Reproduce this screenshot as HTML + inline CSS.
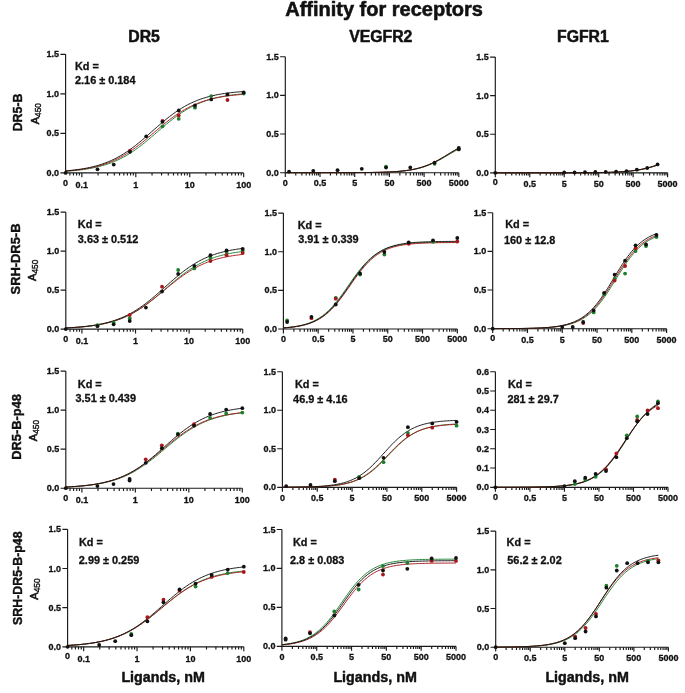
<!DOCTYPE html>
<html><head><meta charset="utf-8"><title>Affinity for receptors</title>
<style>
html,body{margin:0;padding:0;background:#fff;}
svg{display:block;filter:blur(0.3px);}
text{font-family:'Liberation Sans', Arial, sans-serif;fill:#111;stroke:#111;stroke-width:0.3px;}
.yl{stroke-width:0.55px;}.ys{stroke-width:0.4px;}
.tl{font-size:9px;font-weight:bold;}
.kd{font-size:10.9px;font-weight:bold;}
.ttl{font-size:20px;font-weight:bold;stroke-width:0.55px;}
.col{font-size:15.8px;font-weight:bold;stroke-width:0.5px;}
.row{font-size:12.4px;font-weight:bold;stroke-width:0.4px;}
.xl{font-size:14.3px;font-weight:bold;stroke-width:0.45px;}
.yl{font-size:11px;font-weight:normal;}
.ys{font-size:8.4px;font-weight:normal;}
</style></head><body>
<svg width="685" height="693" viewBox="0 0 685 693">
<rect width="685" height="693" fill="#fff"/>
<text x="285.2" y="15.8" class="ttl">Affinity for receptors</text>
<text x="128.3" y="41.8" class="col">DR5</text>
<text x="349.2" y="41.6" class="col">VEGFR2</text>
<text x="557.0" y="41.6" class="col">FGFR1</text>

<text transform="translate(22.20 112.40) rotate(-90)" x="0" y="0" class="row" style="font-size:12.4px" text-anchor="middle">DR5-B</text>
<text transform="translate(38.90 113.70) rotate(-90)" x="0" y="0" text-anchor="middle"><tspan class="yl">A</tspan><tspan class="ys" dy="2.1">450</tspan></text>
<text transform="translate(19.80 259.00) rotate(-90)" x="0" y="0" class="row" style="font-size:12.9px" text-anchor="middle">SRH-DR5-B</text>
<text transform="translate(36.20 270.30) rotate(-90)" x="0" y="0" text-anchor="middle"><tspan class="yl">A</tspan><tspan class="ys" dy="2.1">450</tspan></text>
<text transform="translate(21.20 426.90) rotate(-90)" x="0" y="0" class="row" style="font-size:12.85px" text-anchor="middle">DR5-B-p48</text>
<text transform="translate(36.80 430.50) rotate(-90)" x="0" y="0" text-anchor="middle"><tspan class="yl">A</tspan><tspan class="ys" dy="2.1">450</tspan></text>
<text transform="translate(21.70 578.20) rotate(-90)" x="0" y="0" class="row" style="font-size:12.4px" text-anchor="middle">SRH-DR5-B-p48</text>
<text transform="translate(37.90 589.00) rotate(-90)" x="0" y="0" text-anchor="middle"><tspan class="yl">A</tspan><tspan class="ys" dy="2.1">450</tspan></text>
<path d="M65.60 54.30V172.90H243.70" stroke="#1a1a1a" stroke-width="1.15" fill="none"/>
<text x="59.10" y="175.95" class="tl" text-anchor="end">0.0</text>
<text x="59.10" y="136.42" class="tl" text-anchor="end">0.5</text>
<text x="59.10" y="96.88" class="tl" text-anchor="end">1.0</text>
<text x="59.10" y="57.35" class="tl" text-anchor="end">1.5</text>
<text x="81.84" y="187.60" class="tl" text-anchor="middle">0.1</text>
<text x="135.79" y="187.60" class="tl" text-anchor="middle">1</text>
<text x="189.75" y="187.60" class="tl" text-anchor="middle">10</text>
<text x="243.70" y="187.60" class="tl" text-anchor="middle">100</text>
<text x="65.60" y="185.50" class="tl" text-anchor="middle">0</text>
<path d="M60.40 172.90H65.60M60.40 133.37H65.60M60.40 93.83H65.60M60.40 54.30H65.60M69.87 172.90V175.60M73.48 172.90V175.60M76.61 172.90V175.60M79.37 172.90V175.60M98.08 172.90V175.60M107.58 172.90V175.60M114.32 172.90V175.60M119.55 172.90V175.60M123.82 172.90V175.60M127.44 172.90V175.60M130.57 172.90V175.60M133.33 172.90V175.60M152.04 172.90V175.60M161.54 172.90V175.60M168.28 172.90V175.60M173.51 172.90V175.60M177.78 172.90V175.60M181.39 172.90V175.60M184.52 172.90V175.60M187.28 172.90V175.60M205.99 172.90V175.60M215.49 172.90V175.60M222.23 172.90V175.60M227.46 172.90V175.60M231.73 172.90V175.60M235.34 172.90V175.60M238.47 172.90V175.60M241.23 172.90V175.60M81.84 172.90V177.30M135.79 172.90V177.30M189.75 172.90V177.30M243.70 172.90V177.30" stroke="#1a1a1a" stroke-width="1.15" fill="none"/>
<polyline points="65.60,171.28 67.08,171.18 68.57,171.07 70.05,170.95 71.54,170.82 73.02,170.69 74.50,170.55 75.99,170.40 77.47,170.24 78.96,170.08 80.44,169.90 81.93,169.71 83.41,169.51 84.89,169.30 86.38,169.07 87.86,168.84 89.35,168.59 90.83,168.32 92.31,168.04 93.80,167.74 95.28,167.43 96.77,167.09 98.25,166.74 99.74,166.37 101.22,165.98 102.70,165.57 104.19,165.14 105.67,164.68 107.16,164.20 108.64,163.70 110.12,163.17 111.61,162.61 113.09,162.03 114.58,161.42 116.06,160.78 117.55,160.11 119.03,159.42 120.51,158.69 122.00,157.93 123.48,157.14 124.97,156.32 126.45,155.47 127.94,154.59 129.42,153.68 130.90,152.73 132.39,151.76 133.87,150.75 135.36,149.72 136.84,148.66 138.32,147.57 139.81,146.45 141.29,145.31 142.78,144.15 144.26,142.96 145.75,141.76 147.23,140.53 148.71,139.29 150.20,138.04 151.68,136.78 153.17,135.51 154.65,134.23 156.13,132.95 157.62,131.66 159.10,130.38 160.59,129.10 162.07,127.83 163.56,126.57 165.04,125.32 166.52,124.08 168.01,122.86 169.49,121.66 170.98,120.47 172.46,119.31 173.94,118.17 175.43,117.06 176.91,115.98 178.40,114.92 179.88,113.89 181.36,112.88 182.85,111.91 184.33,110.97 185.82,110.06 187.30,109.18 188.79,108.34 190.27,107.52 191.75,106.74 193.24,105.98 194.72,105.26 196.21,104.56 197.69,103.90 199.17,103.27 200.66,102.66 202.14,102.08 203.63,101.53 205.11,101.00 206.60,100.50 208.08,100.02 209.56,99.57 211.05,99.14 212.53,98.73 214.02,98.34 215.50,97.97 216.98,97.62 218.47,97.29 219.95,96.98 221.44,96.69 222.92,96.41 224.41,96.14 225.89,95.89 227.37,95.66 228.86,95.43 230.34,95.22 231.83,95.02 233.31,94.84 234.79,94.66 236.28,94.49 237.76,94.34 239.25,94.19 240.73,94.05 242.22,93.92 243.70,93.79" stroke="#1b7f2b" stroke-width="0.95" fill="none"/>
<polyline points="65.60,171.08 67.08,170.96 68.57,170.84 70.05,170.70 71.54,170.57 73.02,170.42 74.50,170.26 75.99,170.09 77.47,169.92 78.96,169.73 80.44,169.53 81.93,169.32 83.41,169.10 84.89,168.86 86.38,168.61 87.86,168.35 89.35,168.07 90.83,167.77 92.31,167.46 93.80,167.13 95.28,166.78 96.77,166.41 98.25,166.02 99.74,165.62 101.22,165.19 102.70,164.73 104.19,164.26 105.67,163.76 107.16,163.23 108.64,162.68 110.12,162.10 111.61,161.49 113.09,160.86 114.58,160.20 116.06,159.50 117.55,158.78 119.03,158.03 120.51,157.25 122.00,156.43 123.48,155.59 124.97,154.71 126.45,153.81 127.94,152.87 129.42,151.90 130.90,150.91 132.39,149.88 133.87,148.83 135.36,147.75 136.84,146.64 138.32,145.51 139.81,144.36 141.29,143.18 142.78,141.99 144.26,140.77 145.75,139.55 147.23,138.30 148.71,137.05 150.20,135.79 151.68,134.53 153.17,133.26 154.65,131.99 156.13,130.72 157.62,129.45 159.10,128.19 160.59,126.94 162.07,125.71 163.56,124.48 165.04,123.27 166.52,122.08 168.01,120.91 169.49,119.76 170.98,118.64 172.46,117.54 173.94,116.46 175.43,115.42 176.91,114.40 178.40,113.41 179.88,112.45 181.36,111.52 182.85,110.62 184.33,109.75 185.82,108.92 187.30,108.11 188.79,107.33 190.27,106.59 191.75,105.87 193.24,105.19 194.72,104.53 196.21,103.91 197.69,103.31 199.17,102.74 200.66,102.19 202.14,101.67 203.63,101.18 205.11,100.70 206.60,100.26 208.08,99.83 209.56,99.43 211.05,99.04 212.53,98.68 214.02,98.34 215.50,98.01 216.98,97.70 218.47,97.41 219.95,97.14 221.44,96.87 222.92,96.63 224.41,96.39 225.89,96.17 227.37,95.97 228.86,95.77 230.34,95.59 231.83,95.41 233.31,95.25 234.79,95.09 236.28,94.95 237.76,94.81 239.25,94.68 240.73,94.56 242.22,94.44 243.70,94.34" stroke="#a8161b" stroke-width="0.95" fill="none"/>
<polyline points="65.60,170.88 67.08,170.75 68.57,170.61 70.05,170.46 71.54,170.31 73.02,170.15 74.50,169.97 75.99,169.79 77.47,169.59 78.96,169.39 80.44,169.17 81.93,168.93 83.41,168.69 84.89,168.43 86.38,168.15 87.86,167.86 89.35,167.55 90.83,167.22 92.31,166.88 93.80,166.52 95.28,166.13 96.77,165.73 98.25,165.30 99.74,164.85 101.22,164.38 102.70,163.89 104.19,163.36 105.67,162.82 107.16,162.24 108.64,161.64 110.12,161.01 111.61,160.35 113.09,159.66 114.58,158.94 116.06,158.19 117.55,157.40 119.03,156.59 120.51,155.74 122.00,154.87 123.48,153.96 124.97,153.01 126.45,152.04 127.94,151.04 129.42,150.00 130.90,148.94 132.39,147.84 133.87,146.72 135.36,145.57 136.84,144.40 138.32,143.20 139.81,141.98 141.29,140.74 142.78,139.49 144.26,138.21 145.75,136.93 147.23,135.63 148.71,134.33 150.20,133.02 151.68,131.70 153.17,130.39 154.65,129.08 156.13,127.77 157.62,126.47 159.10,125.18 160.59,123.90 162.07,122.63 163.56,121.39 165.04,120.16 166.52,118.95 168.01,117.77 169.49,116.61 170.98,115.47 172.46,114.36 173.94,113.28 175.43,112.23 176.91,111.22 178.40,110.23 179.88,109.27 181.36,108.34 182.85,107.45 184.33,106.59 185.82,105.76 187.30,104.96 188.79,104.20 190.27,103.46 191.75,102.76 193.24,102.08 194.72,101.44 196.21,100.82 197.69,100.23 199.17,99.67 200.66,99.14 202.14,98.63 203.63,98.15 205.11,97.69 206.60,97.25 208.08,96.84 209.56,96.44 211.05,96.07 212.53,95.72 214.02,95.38 215.50,95.07 216.98,94.77 218.47,94.48 219.95,94.22 221.44,93.96 222.92,93.72 224.41,93.50 225.89,93.29 227.37,93.08 228.86,92.89 230.34,92.72 231.83,92.55 233.31,92.39 234.79,92.24 236.28,92.10 237.76,91.97 239.25,91.84 240.73,91.72 242.22,91.61 243.70,91.51" stroke="#111" stroke-width="0.95" fill="none"/>
<circle cx="162.49" cy="126.30" r="1.9" fill="#1b7f2b"/>
<circle cx="178.73" cy="118.80" r="1.9" fill="#1b7f2b"/>
<circle cx="194.98" cy="107.70" r="1.9" fill="#1b7f2b"/>
<circle cx="211.22" cy="96.10" r="1.9" fill="#1b7f2b"/>
<circle cx="243.70" cy="93.50" r="1.9" fill="#1b7f2b"/>
<circle cx="129.97" cy="150.60" r="1.9" fill="#a8161b"/>
<circle cx="162.49" cy="121.00" r="1.9" fill="#a8161b"/>
<circle cx="178.73" cy="115.50" r="1.9" fill="#a8161b"/>
<circle cx="227.46" cy="100.00" r="1.9" fill="#a8161b"/>
<circle cx="97.49" cy="169.30" r="1.9" fill="#111"/>
<circle cx="113.73" cy="164.60" r="1.9" fill="#111"/>
<circle cx="129.97" cy="151.80" r="1.9" fill="#111"/>
<circle cx="146.25" cy="136.30" r="1.9" fill="#111"/>
<circle cx="162.49" cy="121.80" r="1.9" fill="#111"/>
<circle cx="178.73" cy="110.50" r="1.9" fill="#111"/>
<circle cx="194.98" cy="105.50" r="1.9" fill="#111"/>
<circle cx="211.22" cy="99.40" r="1.9" fill="#111"/>
<circle cx="227.46" cy="94.40" r="1.9" fill="#111"/>
<circle cx="243.70" cy="92.50" r="1.9" fill="#111"/>
<circle cx="65.60" cy="172.90" r="1.9" fill="#111"/>
<text x="75.00" y="69.70" class="kd">Kd =</text>
<text x="75.00" y="83.90" class="kd">2.16 ± 0.184</text>
<path d="M285.30 56.70V172.70H458.80" stroke="#1a1a1a" stroke-width="1.15" fill="none"/>
<text x="278.80" y="175.75" class="tl" text-anchor="end">0.0</text>
<text x="278.80" y="137.08" class="tl" text-anchor="end">0.5</text>
<text x="278.80" y="98.42" class="tl" text-anchor="end">1.0</text>
<text x="278.80" y="59.75" class="tl" text-anchor="end">1.5</text>
<text x="320.00" y="185.90" class="tl" text-anchor="middle">0.5</text>
<text x="354.70" y="185.90" class="tl" text-anchor="middle">5</text>
<text x="389.40" y="185.90" class="tl" text-anchor="middle">50</text>
<text x="424.10" y="185.90" class="tl" text-anchor="middle">500</text>
<text x="458.80" y="185.90" class="tl" text-anchor="middle">5000</text>
<text x="285.30" y="185.90" class="tl" text-anchor="middle">0</text>
<path d="M280.10 172.70H285.30M280.10 134.03H285.30M280.10 95.37H285.30M280.10 56.70H285.30M295.75 172.70V175.40M301.86 172.70V175.40M306.19 172.70V175.40M309.55 172.70V175.40M312.30 172.70V175.40M314.62 172.70V175.40M316.64 172.70V175.40M318.41 172.70V175.40M330.45 172.70V175.40M336.56 172.70V175.40M340.89 172.70V175.40M344.25 172.70V175.40M347.00 172.70V175.40M349.32 172.70V175.40M351.34 172.70V175.40M353.11 172.70V175.40M365.15 172.70V175.40M371.26 172.70V175.40M375.59 172.70V175.40M378.95 172.70V175.40M381.70 172.70V175.40M384.02 172.70V175.40M386.04 172.70V175.40M387.81 172.70V175.40M399.85 172.70V175.40M405.96 172.70V175.40M410.29 172.70V175.40M413.65 172.70V175.40M416.40 172.70V175.40M418.72 172.70V175.40M420.74 172.70V175.40M422.51 172.70V175.40M434.55 172.70V175.40M440.66 172.70V175.40M444.99 172.70V175.40M448.35 172.70V175.40M451.10 172.70V175.40M453.42 172.70V175.40M455.44 172.70V175.40M457.21 172.70V175.40M320.00 172.70V177.10M354.70 172.70V177.10M389.40 172.70V177.10M424.10 172.70V177.10M458.80 172.70V177.10M285.30 172.70V177.10" stroke="#1a1a1a" stroke-width="1.15" fill="none"/>
<polyline points="285.30,172.70 286.75,172.70 288.19,172.70 289.64,172.70 291.08,172.70 292.53,172.70 293.98,172.70 295.42,172.70 296.87,172.70 298.31,172.70 299.76,172.70 301.20,172.70 302.65,172.70 304.10,172.70 305.54,172.70 306.99,172.70 308.43,172.70 309.88,172.70 311.32,172.70 312.77,172.70 314.22,172.70 315.66,172.69 317.11,172.69 318.55,172.69 320.00,172.69 321.45,172.69 322.89,172.69 324.34,172.69 325.78,172.69 327.23,172.69 328.68,172.69 330.12,172.69 331.57,172.68 333.01,172.68 334.46,172.68 335.90,172.68 337.35,172.68 338.80,172.68 340.24,172.67 341.69,172.67 343.13,172.67 344.58,172.66 346.03,172.66 347.47,172.66 348.92,172.65 350.36,172.65 351.81,172.64 353.25,172.64 354.70,172.63 356.15,172.62 357.59,172.61 359.04,172.61 360.48,172.60 361.93,172.59 363.38,172.57 364.82,172.56 366.27,172.55 367.71,172.53 369.16,172.52 370.60,172.50 372.05,172.48 373.50,172.45 374.94,172.43 376.39,172.40 377.83,172.37 379.28,172.34 380.73,172.30 382.17,172.27 383.62,172.22 385.06,172.17 386.51,172.12 387.95,172.07 389.40,172.00 390.85,171.93 392.29,171.86 393.74,171.78 395.18,171.69 396.63,171.59 398.08,171.48 399.52,171.36 400.97,171.23 402.41,171.09 403.86,170.94 405.30,170.77 406.75,170.58 408.20,170.38 409.64,170.17 411.09,169.93 412.53,169.68 413.98,169.40 415.43,169.10 416.87,168.78 418.32,168.43 419.76,168.06 421.21,167.66 422.65,167.23 424.10,166.77 425.55,166.28 426.99,165.76 428.44,165.21 429.88,164.63 431.33,164.01 432.78,163.37 434.22,162.69 435.67,161.99 437.11,161.26 438.56,160.50 440.00,159.72 441.45,158.92 442.90,158.10 444.34,157.27 445.79,156.42 447.23,155.57 448.68,154.72 450.12,153.87 451.57,153.02 453.02,152.18 454.46,151.36 455.91,150.55 457.35,149.75 458.80,148.98" stroke="#1b7f2b" stroke-width="0.95" fill="none"/>
<polyline points="285.30,172.70 286.75,172.70 288.19,172.70 289.64,172.70 291.08,172.70 292.53,172.70 293.98,172.70 295.42,172.70 296.87,172.70 298.31,172.70 299.76,172.70 301.20,172.70 302.65,172.70 304.10,172.70 305.54,172.70 306.99,172.70 308.43,172.70 309.88,172.70 311.32,172.70 312.77,172.70 314.22,172.69 315.66,172.69 317.11,172.69 318.55,172.69 320.00,172.69 321.45,172.69 322.89,172.69 324.34,172.69 325.78,172.69 327.23,172.69 328.68,172.69 330.12,172.69 331.57,172.68 333.01,172.68 334.46,172.68 335.90,172.68 337.35,172.68 338.80,172.67 340.24,172.67 341.69,172.67 343.13,172.66 344.58,172.66 346.03,172.66 347.47,172.65 348.92,172.65 350.36,172.64 351.81,172.64 353.25,172.63 354.70,172.62 356.15,172.62 357.59,172.61 359.04,172.60 360.48,172.59 361.93,172.58 363.38,172.57 364.82,172.55 366.27,172.54 367.71,172.52 369.16,172.50 370.60,172.48 372.05,172.46 373.50,172.44 374.94,172.41 376.39,172.38 377.83,172.35 379.28,172.32 380.73,172.28 382.17,172.24 383.62,172.19 385.06,172.14 386.51,172.09 387.95,172.02 389.40,171.96 390.85,171.89 392.29,171.81 393.74,171.72 395.18,171.62 396.63,171.52 398.08,171.40 399.52,171.28 400.97,171.14 402.41,170.99 403.86,170.83 405.30,170.65 406.75,170.45 408.20,170.24 409.64,170.01 411.09,169.76 412.53,169.50 413.98,169.20 415.43,168.89 416.87,168.55 418.32,168.18 419.76,167.79 421.21,167.37 422.65,166.92 424.10,166.43 425.55,165.92 426.99,165.37 428.44,164.80 429.88,164.19 431.33,163.55 432.78,162.87 434.22,162.17 435.67,161.44 437.11,160.68 438.56,159.90 440.00,159.09 441.45,158.26 442.90,157.42 444.34,156.57 445.79,155.70 447.23,154.83 448.68,153.96 450.12,153.09 451.57,152.23 453.02,151.38 454.46,150.54 455.91,149.72 457.35,148.92 458.80,148.14" stroke="#a8161b" stroke-width="0.95" fill="none"/>
<polyline points="285.30,172.70 286.75,172.70 288.19,172.70 289.64,172.70 291.08,172.70 292.53,172.70 293.98,172.70 295.42,172.70 296.87,172.70 298.31,172.70 299.76,172.70 301.20,172.70 302.65,172.70 304.10,172.70 305.54,172.70 306.99,172.70 308.43,172.70 309.88,172.70 311.32,172.70 312.77,172.70 314.22,172.69 315.66,172.69 317.11,172.69 318.55,172.69 320.00,172.69 321.45,172.69 322.89,172.69 324.34,172.69 325.78,172.69 327.23,172.69 328.68,172.69 330.12,172.69 331.57,172.68 333.01,172.68 334.46,172.68 335.90,172.68 337.35,172.68 338.80,172.67 340.24,172.67 341.69,172.67 343.13,172.67 344.58,172.66 346.03,172.66 347.47,172.65 348.92,172.65 350.36,172.64 351.81,172.64 353.25,172.63 354.70,172.63 356.15,172.62 357.59,172.61 359.04,172.60 360.48,172.59 361.93,172.58 363.38,172.57 364.82,172.56 366.27,172.54 367.71,172.52 369.16,172.51 370.60,172.49 372.05,172.47 373.50,172.44 374.94,172.42 376.39,172.39 377.83,172.36 379.28,172.32 380.73,172.29 382.17,172.25 383.62,172.20 385.06,172.15 386.51,172.10 387.95,172.04 389.40,171.97 390.85,171.90 392.29,171.82 393.74,171.74 395.18,171.64 396.63,171.54 398.08,171.43 399.52,171.30 400.97,171.17 402.41,171.02 403.86,170.86 405.30,170.68 406.75,170.49 408.20,170.28 409.64,170.06 411.09,169.81 412.53,169.55 413.98,169.26 415.43,168.95 416.87,168.61 418.32,168.25 419.76,167.86 421.21,167.44 422.65,166.99 424.10,166.51 425.55,166.00 426.99,165.46 428.44,164.88 429.88,164.28 431.33,163.63 432.78,162.96 434.22,162.26 435.67,161.52 437.11,160.76 438.56,159.97 440.00,159.15 441.45,158.32 442.90,157.46 444.34,156.60 445.79,155.72 447.23,154.83 448.68,153.94 450.12,153.05 451.57,152.17 453.02,151.29 454.46,150.43 455.91,149.58 457.35,148.76 458.80,147.95" stroke="#111" stroke-width="0.95" fill="none"/>
<circle cx="386.04" cy="166.60" r="1.9" fill="#1b7f2b"/>
<circle cx="434.55" cy="163.80" r="1.9" fill="#1b7f2b"/>
<circle cx="289.02" cy="171.60" r="1.9" fill="#111"/>
<circle cx="313.27" cy="170.80" r="1.9" fill="#111"/>
<circle cx="337.53" cy="170.20" r="1.9" fill="#111"/>
<circle cx="361.78" cy="168.80" r="1.9" fill="#111"/>
<circle cx="386.04" cy="167.60" r="1.9" fill="#111"/>
<circle cx="410.29" cy="167.40" r="1.9" fill="#111"/>
<circle cx="434.55" cy="162.70" r="1.9" fill="#111"/>
<circle cx="458.80" cy="148.00" r="1.9" fill="#111"/>
<circle cx="458.80" cy="149.40" r="1.9" fill="#111"/>
<path d="M495.30 57.10V172.80H667.60" stroke="#1a1a1a" stroke-width="1.15" fill="none"/>
<text x="488.80" y="175.85" class="tl" text-anchor="end">0.0</text>
<text x="488.80" y="137.28" class="tl" text-anchor="end">0.5</text>
<text x="488.80" y="98.72" class="tl" text-anchor="end">1.0</text>
<text x="488.80" y="60.15" class="tl" text-anchor="end">1.5</text>
<text x="529.76" y="186.70" class="tl" text-anchor="middle">0.5</text>
<text x="564.22" y="186.70" class="tl" text-anchor="middle">5</text>
<text x="598.68" y="186.70" class="tl" text-anchor="middle">50</text>
<text x="633.14" y="186.70" class="tl" text-anchor="middle">500</text>
<text x="667.60" y="186.70" class="tl" text-anchor="middle">5000</text>
<text x="495.30" y="185.30" class="tl" text-anchor="middle">0</text>
<path d="M490.10 172.80H495.30M490.10 134.23H495.30M490.10 95.67H495.30M490.10 57.10H495.30M505.67 172.80V175.50M511.74 172.80V175.50M516.05 172.80V175.50M519.39 172.80V175.50M522.12 172.80V175.50M524.42 172.80V175.50M526.42 172.80V175.50M528.18 172.80V175.50M540.13 172.80V175.50M546.20 172.80V175.50M550.51 172.80V175.50M553.85 172.80V175.50M556.58 172.80V175.50M558.88 172.80V175.50M560.88 172.80V175.50M562.64 172.80V175.50M574.59 172.80V175.50M580.66 172.80V175.50M584.97 172.80V175.50M588.31 172.80V175.50M591.04 172.80V175.50M593.34 172.80V175.50M595.34 172.80V175.50M597.10 172.80V175.50M609.05 172.80V175.50M615.12 172.80V175.50M619.43 172.80V175.50M622.77 172.80V175.50M625.50 172.80V175.50M627.80 172.80V175.50M629.80 172.80V175.50M631.56 172.80V175.50M643.51 172.80V175.50M649.58 172.80V175.50M653.89 172.80V175.50M657.23 172.80V175.50M659.96 172.80V175.50M662.26 172.80V175.50M664.26 172.80V175.50M666.02 172.80V175.50M529.76 172.80V177.20M564.22 172.80V177.20M598.68 172.80V177.20M633.14 172.80V177.20M667.60 172.80V177.20M495.30 172.80V177.20" stroke="#1a1a1a" stroke-width="1.15" fill="none"/>
<polyline points="495.30,172.80 496.65,172.80 498.00,172.80 499.36,172.80 500.71,172.80 502.06,172.80 503.41,172.80 504.77,172.80 506.12,172.80 507.47,172.80 508.82,172.80 510.18,172.80 511.53,172.80 512.88,172.80 514.23,172.80 515.59,172.80 516.94,172.80 518.29,172.80 519.64,172.80 520.99,172.80 522.35,172.80 523.70,172.80 525.05,172.80 526.40,172.80 527.76,172.80 529.11,172.80 530.46,172.80 531.81,172.80 533.17,172.80 534.52,172.80 535.87,172.80 537.22,172.80 538.58,172.80 539.93,172.80 541.28,172.80 542.63,172.79 543.98,172.79 545.34,172.79 546.69,172.79 548.04,172.79 549.39,172.79 550.75,172.79 552.10,172.79 553.45,172.79 554.80,172.79 556.16,172.79 557.51,172.79 558.86,172.78 560.21,172.78 561.56,172.78 562.92,172.78 564.27,172.78 565.62,172.78 566.97,172.77 568.33,172.77 569.68,172.77 571.03,172.76 572.38,172.76 573.74,172.76 575.09,172.75 576.44,172.75 577.79,172.75 579.15,172.74 580.50,172.73 581.85,172.73 583.20,172.72 584.55,172.71 585.91,172.71 587.26,172.70 588.61,172.69 589.96,172.68 591.32,172.66 592.67,172.65 594.02,172.64 595.37,172.62 596.73,172.61 598.08,172.59 599.43,172.57 600.78,172.55 602.14,172.52 603.49,172.50 604.84,172.47 606.19,172.44 607.54,172.40 608.90,172.37 610.25,172.33 611.60,172.28 612.95,172.24 614.31,172.18 615.66,172.13 617.01,172.07 618.36,172.00 619.72,171.93 621.07,171.85 622.42,171.76 623.77,171.67 625.13,171.57 626.48,171.46 627.83,171.34 629.18,171.21 630.53,171.07 631.89,170.92 633.24,170.76 634.59,170.58 635.94,170.40 637.30,170.19 638.65,169.98 640.00,169.75 641.35,169.50 642.71,169.23 644.06,168.95 645.41,168.65 646.76,168.34 648.12,168.00 649.47,167.65 650.82,167.28 652.17,166.89 653.52,166.48 654.88,166.06 656.23,165.62 657.58,165.17" stroke="#1b7f2b" stroke-width="0.95" fill="none"/>
<polyline points="495.30,172.80 496.65,172.80 498.00,172.80 499.36,172.80 500.71,172.80 502.06,172.80 503.41,172.80 504.77,172.80 506.12,172.80 507.47,172.80 508.82,172.80 510.18,172.80 511.53,172.80 512.88,172.80 514.23,172.80 515.59,172.80 516.94,172.80 518.29,172.80 519.64,172.80 520.99,172.80 522.35,172.80 523.70,172.80 525.05,172.80 526.40,172.80 527.76,172.80 529.11,172.80 530.46,172.80 531.81,172.80 533.17,172.80 534.52,172.80 535.87,172.80 537.22,172.80 538.58,172.80 539.93,172.80 541.28,172.79 542.63,172.79 543.98,172.79 545.34,172.79 546.69,172.79 548.04,172.79 549.39,172.79 550.75,172.79 552.10,172.79 553.45,172.79 554.80,172.79 556.16,172.79 557.51,172.78 558.86,172.78 560.21,172.78 561.56,172.78 562.92,172.78 564.27,172.78 565.62,172.77 566.97,172.77 568.33,172.77 569.68,172.77 571.03,172.76 572.38,172.76 573.74,172.76 575.09,172.75 576.44,172.75 577.79,172.74 579.15,172.74 580.50,172.73 581.85,172.72 583.20,172.72 584.55,172.71 585.91,172.70 587.26,172.69 588.61,172.68 589.96,172.67 591.32,172.66 592.67,172.64 594.02,172.63 595.37,172.61 596.73,172.59 598.08,172.57 599.43,172.55 600.78,172.53 602.14,172.50 603.49,172.48 604.84,172.45 606.19,172.41 607.54,172.38 608.90,172.34 610.25,172.30 611.60,172.25 612.95,172.20 614.31,172.14 615.66,172.08 617.01,172.02 618.36,171.95 619.72,171.87 621.07,171.78 622.42,171.69 623.77,171.59 625.13,171.48 626.48,171.37 627.83,171.24 629.18,171.10 630.53,170.95 631.89,170.79 633.24,170.62 634.59,170.44 635.94,170.24 637.30,170.02 638.65,169.79 640.00,169.54 641.35,169.28 642.71,169.00 644.06,168.70 645.41,168.38 646.76,168.04 648.12,167.68 649.47,167.31 650.82,166.91 652.17,166.50 653.52,166.06 654.88,165.61 656.23,165.14 657.58,164.66" stroke="#a8161b" stroke-width="0.95" fill="none"/>
<polyline points="495.30,172.80 496.65,172.80 498.00,172.80 499.36,172.80 500.71,172.80 502.06,172.80 503.41,172.80 504.77,172.80 506.12,172.80 507.47,172.80 508.82,172.80 510.18,172.80 511.53,172.80 512.88,172.80 514.23,172.80 515.59,172.80 516.94,172.80 518.29,172.80 519.64,172.80 520.99,172.80 522.35,172.80 523.70,172.80 525.05,172.80 526.40,172.80 527.76,172.80 529.11,172.80 530.46,172.80 531.81,172.80 533.17,172.80 534.52,172.80 535.87,172.80 537.22,172.80 538.58,172.80 539.93,172.80 541.28,172.80 542.63,172.79 543.98,172.79 545.34,172.79 546.69,172.79 548.04,172.79 549.39,172.79 550.75,172.79 552.10,172.79 553.45,172.79 554.80,172.79 556.16,172.79 557.51,172.79 558.86,172.78 560.21,172.78 561.56,172.78 562.92,172.78 564.27,172.78 565.62,172.77 566.97,172.77 568.33,172.77 569.68,172.77 571.03,172.76 572.38,172.76 573.74,172.76 575.09,172.75 576.44,172.75 577.79,172.74 579.15,172.74 580.50,172.73 581.85,172.73 583.20,172.72 584.55,172.71 585.91,172.70 587.26,172.69 588.61,172.68 589.96,172.67 591.32,172.66 592.67,172.65 594.02,172.63 595.37,172.62 596.73,172.60 598.08,172.58 599.43,172.56 600.78,172.54 602.14,172.51 603.49,172.49 604.84,172.46 606.19,172.42 607.54,172.39 608.90,172.35 610.25,172.31 611.60,172.26 612.95,172.21 614.31,172.16 615.66,172.10 617.01,172.04 618.36,171.97 619.72,171.89 621.07,171.81 622.42,171.72 623.77,171.63 625.13,171.52 626.48,171.41 627.83,171.28 629.18,171.15 630.53,171.01 631.89,170.85 633.24,170.68 634.59,170.50 635.94,170.31 637.30,170.10 638.65,169.88 640.00,169.64 641.35,169.39 642.71,169.11 644.06,168.82 645.41,168.52 646.76,168.19 648.12,167.85 649.47,167.49 650.82,167.11 652.17,166.72 653.52,166.30 654.88,165.87 656.23,165.43 657.58,164.96" stroke="#111" stroke-width="0.95" fill="none"/>
<circle cx="564.22" cy="172.50" r="1.9" fill="#111"/>
<circle cx="574.59" cy="172.40" r="1.9" fill="#111"/>
<circle cx="584.97" cy="172.20" r="1.9" fill="#111"/>
<circle cx="595.34" cy="172.00" r="1.9" fill="#111"/>
<circle cx="605.71" cy="171.90" r="1.9" fill="#111"/>
<circle cx="616.09" cy="171.60" r="1.9" fill="#111"/>
<circle cx="626.46" cy="171.10" r="1.9" fill="#111"/>
<circle cx="636.83" cy="169.70" r="1.9" fill="#111"/>
<circle cx="647.21" cy="168.00" r="1.9" fill="#111"/>
<circle cx="657.58" cy="164.40" r="1.9" fill="#111"/>
<circle cx="495.30" cy="172.80" r="1.9" fill="#111"/>
<path d="M65.80 212.10V329.10H242.70" stroke="#1a1a1a" stroke-width="1.15" fill="none"/>
<text x="59.30" y="332.15" class="tl" text-anchor="end">0.0</text>
<text x="59.30" y="293.15" class="tl" text-anchor="end">0.5</text>
<text x="59.30" y="254.15" class="tl" text-anchor="end">1.0</text>
<text x="59.30" y="215.15" class="tl" text-anchor="end">1.5</text>
<text x="81.93" y="343.80" class="tl" text-anchor="middle">0.1</text>
<text x="135.52" y="343.80" class="tl" text-anchor="middle">1</text>
<text x="189.11" y="343.80" class="tl" text-anchor="middle">10</text>
<text x="242.70" y="343.80" class="tl" text-anchor="middle">100</text>
<text x="65.80" y="341.70" class="tl" text-anchor="middle">0</text>
<path d="M60.60 329.10H65.80M60.60 290.10H65.80M60.60 251.10H65.80M60.60 212.10H65.80M70.04 329.10V331.80M73.63 329.10V331.80M76.74 329.10V331.80M79.48 329.10V331.80M98.06 329.10V331.80M107.50 329.10V331.80M114.20 329.10V331.80M119.39 329.10V331.80M123.63 329.10V331.80M127.22 329.10V331.80M130.33 329.10V331.80M133.07 329.10V331.80M151.65 329.10V331.80M161.09 329.10V331.80M167.79 329.10V331.80M172.98 329.10V331.80M177.22 329.10V331.80M180.81 329.10V331.80M183.92 329.10V331.80M186.66 329.10V331.80M205.24 329.10V331.80M214.68 329.10V331.80M221.37 329.10V331.80M226.57 329.10V331.80M230.81 329.10V331.80M234.40 329.10V331.80M237.51 329.10V331.80M240.25 329.10V331.80M81.93 329.10V333.50M135.52 329.10V333.50M189.11 329.10V333.50M242.70 329.10V333.50" stroke="#1a1a1a" stroke-width="1.15" fill="none"/>
<polyline points="65.80,328.00 67.27,327.93 68.75,327.85 70.22,327.77 71.70,327.69 73.17,327.60 74.64,327.50 76.12,327.40 77.59,327.29 79.07,327.17 80.54,327.05 82.02,326.92 83.49,326.78 84.96,326.64 86.44,326.48 87.91,326.31 89.39,326.14 90.86,325.95 92.33,325.76 93.81,325.55 95.28,325.33 96.76,325.09 98.23,324.84 99.71,324.58 101.18,324.30 102.65,324.01 104.13,323.70 105.60,323.37 107.08,323.02 108.55,322.66 110.02,322.27 111.50,321.87 112.97,321.44 114.45,320.99 115.92,320.51 117.40,320.02 118.87,319.49 120.34,318.94 121.82,318.37 123.29,317.77 124.77,317.14 126.24,316.48 127.72,315.79 129.19,315.07 130.66,314.32 132.14,313.54 133.61,312.73 135.09,311.89 136.56,311.02 138.03,310.11 139.51,309.18 140.98,308.22 142.46,307.22 143.93,306.20 145.40,305.15 146.88,304.07 148.35,302.97 149.83,301.84 151.30,300.69 152.78,299.51 154.25,298.32 155.72,297.11 157.20,295.88 158.67,294.64 160.15,293.39 161.62,292.13 163.09,290.86 164.57,289.59 166.04,288.32 167.52,287.05 168.99,285.78 170.47,284.52 171.94,283.27 173.41,282.03 174.89,280.80 176.36,279.59 177.84,278.39 179.31,277.22 180.78,276.06 182.26,274.93 183.73,273.83 185.21,272.75 186.68,271.70 188.16,270.67 189.63,269.68 191.10,268.71 192.58,267.78 194.05,266.88 195.53,266.00 197.00,265.16 198.47,264.35 199.95,263.57 201.42,262.82 202.90,262.10 204.37,261.41 205.85,260.75 207.32,260.12 208.79,259.51 210.27,258.94 211.74,258.39 213.22,257.86 214.69,257.36 216.16,256.89 217.64,256.44 219.11,256.01 220.59,255.60 222.06,255.22 223.54,254.85 225.01,254.50 226.48,254.17 227.96,253.86 229.43,253.57 230.91,253.29 232.38,253.03 233.86,252.78 235.33,252.54 236.80,252.32 238.28,252.11 239.75,251.91 241.23,251.73 242.70,251.55" stroke="#1b7f2b" stroke-width="0.95" fill="none"/>
<polyline points="65.80,327.98 67.27,327.91 68.75,327.83 70.22,327.75 71.70,327.66 73.17,327.57 74.64,327.47 76.12,327.37 77.59,327.26 79.07,327.14 80.54,327.02 82.02,326.89 83.49,326.75 84.96,326.60 86.44,326.44 87.91,326.27 89.39,326.09 90.86,325.90 92.33,325.70 93.81,325.49 95.28,325.27 96.76,325.03 98.23,324.78 99.71,324.52 101.18,324.23 102.65,323.94 104.13,323.62 105.60,323.29 107.08,322.94 108.55,322.57 110.02,322.19 111.50,321.78 112.97,321.35 114.45,320.89 115.92,320.42 117.40,319.92 118.87,319.39 120.34,318.84 121.82,318.26 123.29,317.66 124.77,317.03 126.24,316.37 127.72,315.68 129.19,314.97 130.66,314.22 132.14,313.44 133.61,312.64 135.09,311.80 136.56,310.94 138.03,310.04 139.51,309.12 140.98,308.17 142.46,307.19 143.93,306.18 145.40,305.14 146.88,304.09 148.35,303.00 149.83,301.90 151.30,300.77 152.78,299.63 154.25,298.46 155.72,297.29 157.20,296.09 158.67,294.89 160.15,293.68 161.62,292.46 163.09,291.24 164.57,290.02 166.04,288.80 167.52,287.58 168.99,286.37 170.47,285.16 171.94,283.97 173.41,282.79 174.89,281.62 176.36,280.47 177.84,279.34 179.31,278.23 180.78,277.14 182.26,276.08 183.73,275.04 185.21,274.02 186.68,273.04 188.16,272.08 189.63,271.15 191.10,270.25 192.58,269.38 194.05,268.53 195.53,267.72 197.00,266.94 198.47,266.19 199.95,265.46 201.42,264.77 202.90,264.10 204.37,263.46 205.85,262.85 207.32,262.27 208.79,261.71 210.27,261.18 211.74,260.68 213.22,260.20 214.69,259.74 216.16,259.30 217.64,258.89 219.11,258.49 220.59,258.12 222.06,257.77 223.54,257.43 225.01,257.11 226.48,256.81 227.96,256.53 229.43,256.26 230.91,256.01 232.38,255.76 233.86,255.54 235.33,255.32 236.80,255.12 238.28,254.93 239.75,254.75 241.23,254.58 242.70,254.42" stroke="#a8161b" stroke-width="0.95" fill="none"/>
<polyline points="65.80,327.92 67.27,327.85 68.75,327.77 70.22,327.68 71.70,327.59 73.17,327.49 74.64,327.39 76.12,327.28 77.59,327.17 79.07,327.04 80.54,326.91 82.02,326.77 83.49,326.63 84.96,326.47 86.44,326.30 87.91,326.13 89.39,325.94 90.86,325.74 92.33,325.53 93.81,325.31 95.28,325.07 96.76,324.82 98.23,324.56 99.71,324.28 101.18,323.98 102.65,323.67 104.13,323.34 105.60,322.99 107.08,322.62 108.55,322.23 110.02,321.82 111.50,321.39 112.97,320.94 114.45,320.46 115.92,319.95 117.40,319.42 118.87,318.87 120.34,318.29 121.82,317.68 123.29,317.04 124.77,316.37 126.24,315.67 127.72,314.94 129.19,314.18 130.66,313.39 132.14,312.57 133.61,311.71 135.09,310.82 136.56,309.90 138.03,308.95 139.51,307.97 140.98,306.95 142.46,305.90 143.93,304.83 145.40,303.72 146.88,302.59 148.35,301.43 149.83,300.25 151.30,299.04 152.78,297.81 154.25,296.57 155.72,295.30 157.20,294.02 158.67,292.72 160.15,291.42 161.62,290.11 163.09,288.79 164.57,287.47 166.04,286.15 167.52,284.83 168.99,283.51 170.47,282.21 171.94,280.91 173.41,279.63 174.89,278.36 176.36,277.11 177.84,275.88 179.31,274.67 180.78,273.48 182.26,272.32 183.73,271.18 185.21,270.07 186.68,268.99 188.16,267.94 189.63,266.92 191.10,265.93 192.58,264.98 194.05,264.05 195.53,263.16 197.00,262.30 198.47,261.47 199.95,260.67 201.42,259.91 202.90,259.17 204.37,258.47 205.85,257.80 207.32,257.16 208.79,256.54 210.27,255.95 211.74,255.40 213.22,254.86 214.69,254.36 216.16,253.87 217.64,253.42 219.11,252.98 220.59,252.57 222.06,252.18 223.54,251.80 225.01,251.45 226.48,251.12 227.96,250.80 229.43,250.50 230.91,250.22 232.38,249.96 233.86,249.70 235.33,249.47 236.80,249.24 238.28,249.03 239.75,248.83 241.23,248.64 242.70,248.46" stroke="#111" stroke-width="0.95" fill="none"/>
<circle cx="97.47" cy="325.20" r="1.9" fill="#1b7f2b"/>
<circle cx="113.61" cy="322.70" r="1.9" fill="#1b7f2b"/>
<circle cx="129.74" cy="318.20" r="1.9" fill="#1b7f2b"/>
<circle cx="178.17" cy="270.00" r="1.9" fill="#1b7f2b"/>
<circle cx="194.30" cy="268.40" r="1.9" fill="#1b7f2b"/>
<circle cx="210.44" cy="257.80" r="1.9" fill="#1b7f2b"/>
<circle cx="226.57" cy="252.00" r="1.9" fill="#1b7f2b"/>
<circle cx="242.70" cy="250.70" r="1.9" fill="#1b7f2b"/>
<circle cx="129.74" cy="315.00" r="1.9" fill="#a8161b"/>
<circle cx="162.04" cy="286.70" r="1.9" fill="#a8161b"/>
<circle cx="210.44" cy="261.00" r="1.9" fill="#a8161b"/>
<circle cx="226.57" cy="255.20" r="1.9" fill="#a8161b"/>
<circle cx="242.70" cy="253.00" r="1.9" fill="#a8161b"/>
<circle cx="97.47" cy="326.20" r="1.9" fill="#111"/>
<circle cx="113.61" cy="324.30" r="1.9" fill="#111"/>
<circle cx="129.74" cy="321.00" r="1.9" fill="#111"/>
<circle cx="145.91" cy="307.60" r="1.9" fill="#111"/>
<circle cx="162.04" cy="291.50" r="1.9" fill="#111"/>
<circle cx="178.17" cy="273.90" r="1.9" fill="#111"/>
<circle cx="194.30" cy="265.80" r="1.9" fill="#111"/>
<circle cx="210.44" cy="255.20" r="1.9" fill="#111"/>
<circle cx="226.57" cy="250.40" r="1.9" fill="#111"/>
<circle cx="242.70" cy="248.80" r="1.9" fill="#111"/>
<circle cx="65.80" cy="329.10" r="1.9" fill="#111"/>
<text x="77.80" y="228.10" class="kd">Kd =</text>
<text x="77.80" y="243.20" class="kd">3.63 ± 0.512</text>
<path d="M283.40 213.10V329.00H457.30" stroke="#1a1a1a" stroke-width="1.15" fill="none"/>
<text x="276.90" y="332.05" class="tl" text-anchor="end">0.0</text>
<text x="276.90" y="293.42" class="tl" text-anchor="end">0.5</text>
<text x="276.90" y="254.78" class="tl" text-anchor="end">1.0</text>
<text x="276.90" y="216.15" class="tl" text-anchor="end">1.5</text>
<text x="318.18" y="342.20" class="tl" text-anchor="middle">0.5</text>
<text x="352.96" y="342.20" class="tl" text-anchor="middle">5</text>
<text x="387.74" y="342.20" class="tl" text-anchor="middle">50</text>
<text x="422.52" y="342.20" class="tl" text-anchor="middle">500</text>
<text x="457.30" y="342.20" class="tl" text-anchor="middle">5000</text>
<text x="283.40" y="342.20" class="tl" text-anchor="middle">0</text>
<path d="M278.20 329.00H283.40M278.20 290.37H283.40M278.20 251.73H283.40M278.20 213.10H283.40M293.87 329.00V331.70M299.99 329.00V331.70M304.34 329.00V331.70M307.71 329.00V331.70M310.46 329.00V331.70M312.79 329.00V331.70M314.81 329.00V331.70M316.59 329.00V331.70M328.65 329.00V331.70M334.77 329.00V331.70M339.12 329.00V331.70M342.49 329.00V331.70M345.24 329.00V331.70M347.57 329.00V331.70M349.59 329.00V331.70M351.37 329.00V331.70M363.43 329.00V331.70M369.55 329.00V331.70M373.90 329.00V331.70M377.27 329.00V331.70M380.02 329.00V331.70M382.35 329.00V331.70M384.37 329.00V331.70M386.15 329.00V331.70M398.21 329.00V331.70M404.33 329.00V331.70M408.68 329.00V331.70M412.05 329.00V331.70M414.80 329.00V331.70M417.13 329.00V331.70M419.15 329.00V331.70M420.93 329.00V331.70M432.99 329.00V331.70M439.11 329.00V331.70M443.46 329.00V331.70M446.83 329.00V331.70M449.58 329.00V331.70M451.91 329.00V331.70M453.93 329.00V331.70M455.71 329.00V331.70M318.18 329.00V333.40M352.96 329.00V333.40M387.74 329.00V333.40M422.52 329.00V333.40M457.30 329.00V333.40M283.40 329.00V333.40" stroke="#1a1a1a" stroke-width="1.15" fill="none"/>
<polyline points="283.40,327.84 284.85,327.73 286.30,327.60 287.75,327.46 289.20,327.31 290.65,327.14 292.09,326.96 293.54,326.76 294.99,326.54 296.44,326.30 297.89,326.04 299.34,325.75 300.79,325.44 302.24,325.10 303.69,324.72 305.14,324.31 306.59,323.87 308.04,323.39 309.49,322.86 310.93,322.29 312.38,321.67 313.83,321.00 315.28,320.28 316.73,319.49 318.18,318.65 319.63,317.74 321.08,316.77 322.53,315.73 323.98,314.61 325.43,313.42 326.88,312.16 328.32,310.82 329.77,309.40 331.22,307.90 332.67,306.33 334.12,304.69 335.57,302.98 337.02,301.19 338.47,299.35 339.92,297.45 341.37,295.49 342.82,293.50 344.26,291.47 345.71,289.41 347.16,287.33 348.61,285.25 350.06,283.17 351.51,281.09 352.96,279.04 354.41,277.02 355.86,275.04 357.31,273.10 358.76,271.21 360.21,269.38 361.65,267.62 363.10,265.92 364.55,264.30 366.00,262.75 367.45,261.28 368.90,259.88 370.35,258.56 371.80,257.32 373.25,256.15 374.70,255.05 376.15,254.03 377.60,253.07 379.05,252.18 380.49,251.36 381.94,250.59 383.39,249.88 384.84,249.23 386.29,248.62 387.74,248.06 389.19,247.55 390.64,247.08 392.09,246.65 393.54,246.25 394.99,245.88 396.44,245.55 397.88,245.24 399.33,244.96 400.78,244.71 402.23,244.47 403.68,244.26 405.13,244.06 406.58,243.88 408.03,243.72 409.48,243.57 410.93,243.44 412.38,243.32 413.83,243.20 415.27,243.10 416.72,243.01 418.17,242.92 419.62,242.85 421.07,242.78 422.52,242.71 423.97,242.66 425.42,242.60 426.87,242.55 428.32,242.51 429.77,242.47 431.22,242.44 432.66,242.40 434.11,242.37 435.56,242.35 437.01,242.32 438.46,242.30 439.91,242.28 441.36,242.26 442.81,242.24 444.26,242.23 445.71,242.21 447.16,242.20 448.61,242.19 450.05,242.18 451.50,242.17 452.95,242.16 454.40,242.15 455.85,242.15 457.30,242.14" stroke="#1b7f2b" stroke-width="0.95" fill="none"/>
<polyline points="283.40,327.96 284.85,327.85 286.30,327.74 287.75,327.62 289.20,327.48 290.65,327.33 292.09,327.16 293.54,326.98 294.99,326.78 296.44,326.57 297.89,326.33 299.34,326.07 300.79,325.79 302.24,325.48 303.69,325.14 305.14,324.77 306.59,324.36 308.04,323.92 309.49,323.45 310.93,322.93 312.38,322.36 313.83,321.75 315.28,321.09 316.73,320.37 318.18,319.59 319.63,318.76 321.08,317.86 322.53,316.90 323.98,315.86 325.43,314.76 326.88,313.58 328.32,312.32 329.77,310.99 331.22,309.59 332.67,308.10 334.12,306.55 335.57,304.92 337.02,303.21 338.47,301.44 339.92,299.61 341.37,297.72 342.82,295.78 344.26,293.80 345.71,291.78 347.16,289.73 348.61,287.66 350.06,285.59 351.51,283.51 352.96,281.45 354.41,279.41 355.86,277.39 357.31,275.41 358.76,273.48 360.21,271.60 361.65,269.77 363.10,268.01 364.55,266.32 366.00,264.70 367.45,263.15 368.90,261.68 370.35,260.28 371.80,258.96 373.25,257.72 374.70,256.55 376.15,255.45 377.60,254.43 379.05,253.47 380.49,252.58 381.94,251.76 383.39,250.99 384.84,250.28 386.29,249.63 387.74,249.02 389.19,248.46 390.64,247.95 392.09,247.47 393.54,247.04 394.99,246.64 396.44,246.28 397.88,245.94 399.33,245.63 400.78,245.35 402.23,245.10 403.68,244.86 405.13,244.65 406.58,244.45 408.03,244.27 409.48,244.11 410.93,243.96 412.38,243.83 413.83,243.71 415.27,243.59 416.72,243.49 418.17,243.40 419.62,243.31 421.07,243.24 422.52,243.17 423.97,243.10 425.42,243.04 426.87,242.99 428.32,242.94 429.77,242.90 431.22,242.86 432.66,242.82 434.11,242.79 435.56,242.76 437.01,242.73 438.46,242.71 439.91,242.69 441.36,242.66 442.81,242.65 444.26,242.63 445.71,242.61 447.16,242.60 448.61,242.59 450.05,242.58 451.50,242.57 452.95,242.56 454.40,242.55 455.85,242.54 457.30,242.53" stroke="#a8161b" stroke-width="0.95" fill="none"/>
<polyline points="283.40,327.92 284.85,327.81 286.30,327.69 287.75,327.56 289.20,327.42 290.65,327.26 292.09,327.09 293.54,326.91 294.99,326.70 296.44,326.48 297.89,326.23 299.34,325.96 300.79,325.67 302.24,325.34 303.69,324.99 305.14,324.61 306.59,324.19 308.04,323.74 309.49,323.24 310.93,322.70 312.38,322.12 313.83,321.48 315.28,320.80 316.73,320.06 318.18,319.26 319.63,318.39 321.08,317.47 322.53,316.47 323.98,315.40 325.43,314.27 326.88,313.05 328.32,311.76 329.77,310.39 331.22,308.95 332.67,307.43 334.12,305.83 335.57,304.16 337.02,302.41 338.47,300.60 339.92,298.73 341.37,296.80 342.82,294.82 344.26,292.80 345.71,290.75 347.16,288.67 348.61,286.57 350.06,284.47 351.51,282.37 352.96,280.28 354.41,278.21 355.86,276.18 357.31,274.19 358.76,272.24 360.21,270.35 361.65,268.51 363.10,266.75 364.55,265.05 366.00,263.42 367.45,261.88 368.90,260.40 370.35,259.01 371.80,257.69 373.25,256.45 374.70,255.29 376.15,254.20 377.60,253.18 379.05,252.22 380.49,251.34 381.94,250.52 383.39,249.76 384.84,249.05 386.29,248.40 387.74,247.80 389.19,247.24 390.64,246.73 392.09,246.27 393.54,245.84 394.99,245.44 396.44,245.08 397.88,244.75 399.33,244.44 400.78,244.16 402.23,243.91 403.68,243.68 405.13,243.47 406.58,243.27 408.03,243.10 409.48,242.94 410.93,242.79 412.38,242.65 413.83,242.53 415.27,242.42 416.72,242.32 418.17,242.23 419.62,242.14 421.07,242.07 422.52,242.00 423.97,241.94 425.42,241.88 426.87,241.83 428.32,241.78 429.77,241.73 431.22,241.70 432.66,241.66 434.11,241.63 435.56,241.60 437.01,241.57 438.46,241.55 439.91,241.52 441.36,241.50 442.81,241.49 444.26,241.47 445.71,241.45 447.16,241.44 448.61,241.43 450.05,241.42 451.50,241.41 452.95,241.40 454.40,241.39 455.85,241.38 457.30,241.37" stroke="#111" stroke-width="0.95" fill="none"/>
<circle cx="287.13" cy="320.50" r="1.9" fill="#1b7f2b"/>
<circle cx="335.75" cy="297.80" r="1.9" fill="#1b7f2b"/>
<circle cx="360.06" cy="274.50" r="1.9" fill="#1b7f2b"/>
<circle cx="384.37" cy="254.60" r="1.9" fill="#1b7f2b"/>
<circle cx="432.99" cy="241.80" r="1.9" fill="#1b7f2b"/>
<circle cx="311.44" cy="318.20" r="1.9" fill="#a8161b"/>
<circle cx="335.75" cy="298.70" r="1.9" fill="#a8161b"/>
<circle cx="408.68" cy="243.80" r="1.9" fill="#a8161b"/>
<circle cx="457.30" cy="241.50" r="1.9" fill="#a8161b"/>
<circle cx="287.13" cy="322.00" r="1.9" fill="#111"/>
<circle cx="311.44" cy="316.80" r="1.9" fill="#111"/>
<circle cx="335.75" cy="304.50" r="1.9" fill="#111"/>
<circle cx="360.06" cy="273.50" r="1.9" fill="#111"/>
<circle cx="384.37" cy="252.00" r="1.9" fill="#111"/>
<circle cx="408.68" cy="242.30" r="1.9" fill="#111"/>
<circle cx="432.99" cy="240.30" r="1.9" fill="#111"/>
<circle cx="457.30" cy="238.00" r="1.9" fill="#111"/>
<text x="297.70" y="228.60" class="kd">Kd =</text>
<text x="298.20" y="243.40" class="kd">3.91 ± 0.339</text>
<path d="M492.70 212.70V328.70H666.60" stroke="#1a1a1a" stroke-width="1.15" fill="none"/>
<text x="486.20" y="331.75" class="tl" text-anchor="end">0.0</text>
<text x="486.20" y="293.08" class="tl" text-anchor="end">0.5</text>
<text x="486.20" y="254.42" class="tl" text-anchor="end">1.0</text>
<text x="486.20" y="215.75" class="tl" text-anchor="end">1.5</text>
<text x="527.48" y="342.60" class="tl" text-anchor="middle">0.5</text>
<text x="562.26" y="342.60" class="tl" text-anchor="middle">5</text>
<text x="597.04" y="342.60" class="tl" text-anchor="middle">50</text>
<text x="631.82" y="342.60" class="tl" text-anchor="middle">500</text>
<text x="666.60" y="342.60" class="tl" text-anchor="middle">5000</text>
<text x="492.70" y="341.20" class="tl" text-anchor="middle">0</text>
<path d="M487.50 328.70H492.70M487.50 290.03H492.70M487.50 251.37H492.70M487.50 212.70H492.70M503.17 328.70V331.40M509.29 328.70V331.40M513.64 328.70V331.40M517.01 328.70V331.40M519.76 328.70V331.40M522.09 328.70V331.40M524.11 328.70V331.40M525.89 328.70V331.40M537.95 328.70V331.40M544.07 328.70V331.40M548.42 328.70V331.40M551.79 328.70V331.40M554.54 328.70V331.40M556.87 328.70V331.40M558.89 328.70V331.40M560.67 328.70V331.40M572.73 328.70V331.40M578.85 328.70V331.40M583.20 328.70V331.40M586.57 328.70V331.40M589.32 328.70V331.40M591.65 328.70V331.40M593.67 328.70V331.40M595.45 328.70V331.40M607.51 328.70V331.40M613.63 328.70V331.40M617.98 328.70V331.40M621.35 328.70V331.40M624.10 328.70V331.40M626.43 328.70V331.40M628.45 328.70V331.40M630.23 328.70V331.40M642.29 328.70V331.40M648.41 328.70V331.40M652.76 328.70V331.40M656.13 328.70V331.40M658.88 328.70V331.40M661.21 328.70V331.40M663.23 328.70V331.40M665.01 328.70V331.40M527.48 328.70V333.10M562.26 328.70V333.10M597.04 328.70V333.10M631.82 328.70V333.10M666.60 328.70V333.10M492.70 328.70V333.10" stroke="#1a1a1a" stroke-width="1.15" fill="none"/>
<polyline points="492.70,328.67 494.06,328.67 495.43,328.67 496.79,328.66 498.16,328.66 499.52,328.66 500.89,328.65 502.25,328.65 503.62,328.64 504.98,328.64 506.35,328.63 507.71,328.62 509.08,328.62 510.44,328.61 511.81,328.60 513.17,328.59 514.54,328.58 515.90,328.57 517.27,328.56 518.63,328.54 520.00,328.53 521.36,328.51 522.73,328.49 524.09,328.47 525.46,328.45 526.82,328.43 528.19,328.40 529.55,328.37 530.92,328.34 532.28,328.31 533.65,328.27 535.01,328.23 536.38,328.19 537.74,328.14 539.11,328.09 540.47,328.03 541.84,327.97 543.20,327.90 544.57,327.82 545.93,327.74 547.30,327.65 548.66,327.55 550.03,327.45 551.39,327.33 552.76,327.20 554.12,327.06 555.49,326.91 556.85,326.74 558.22,326.56 559.58,326.37 560.95,326.15 562.31,325.92 563.67,325.66 565.04,325.38 566.40,325.08 567.77,324.75 569.13,324.40 570.50,324.01 571.86,323.59 573.23,323.13 574.59,322.64 575.96,322.10 577.32,321.53 578.69,320.90 580.05,320.23 581.42,319.50 582.78,318.72 584.15,317.88 585.51,316.98 586.88,316.01 588.24,314.98 589.61,313.88 590.97,312.71 592.34,311.46 593.70,310.14 595.07,308.74 596.43,307.26 597.80,305.71 599.16,304.08 600.53,302.37 601.89,300.60 603.26,298.75 604.62,296.84 605.99,294.86 607.35,292.83 608.72,290.75 610.08,288.62 611.45,286.46 612.81,284.28 614.18,282.07 615.54,279.85 616.91,277.64 618.27,275.43 619.64,273.23 621.00,271.07 622.37,268.93 623.73,266.84 625.10,264.80 626.46,262.81 627.83,260.88 629.19,259.02 630.56,257.22 631.92,255.50 633.29,253.85 634.65,252.28 636.01,250.79 637.38,249.37 638.74,248.03 640.11,246.77 641.47,245.58 642.84,244.46 644.20,243.41 645.57,242.43 646.93,241.51 648.30,240.66 649.66,239.86 651.03,239.13 652.39,238.44 653.76,237.80 655.12,237.21 656.49,236.67" stroke="#1b7f2b" stroke-width="0.95" fill="none"/>
<polyline points="492.70,328.67 494.06,328.67 495.43,328.66 496.79,328.66 498.16,328.66 499.52,328.65 500.89,328.65 502.25,328.64 503.62,328.64 504.98,328.63 506.35,328.62 507.71,328.62 509.08,328.61 510.44,328.60 511.81,328.59 513.17,328.58 514.54,328.57 515.90,328.56 517.27,328.54 518.63,328.53 520.00,328.51 521.36,328.49 522.73,328.47 524.09,328.45 525.46,328.43 526.82,328.40 528.19,328.38 529.55,328.35 530.92,328.31 532.28,328.28 533.65,328.24 535.01,328.19 536.38,328.15 537.74,328.09 539.11,328.04 540.47,327.97 541.84,327.91 543.20,327.83 544.57,327.75 545.93,327.66 547.30,327.56 548.66,327.46 550.03,327.34 551.39,327.22 552.76,327.08 554.12,326.93 555.49,326.76 556.85,326.58 558.22,326.39 559.58,326.18 560.95,325.94 562.31,325.69 563.67,325.42 565.04,325.12 566.40,324.79 567.77,324.44 569.13,324.05 570.50,323.64 571.86,323.18 573.23,322.69 574.59,322.16 575.96,321.59 577.32,320.97 578.69,320.30 580.05,319.58 581.42,318.80 582.78,317.97 584.15,317.07 585.51,316.11 586.88,315.09 588.24,313.99 589.61,312.82 590.97,311.58 592.34,310.26 593.70,308.87 595.07,307.40 596.43,305.85 597.80,304.22 599.16,302.52 600.53,300.74 601.89,298.89 603.26,296.98 604.62,295.00 605.99,292.96 607.35,290.87 608.72,288.74 610.08,286.57 611.45,284.37 612.81,282.15 614.18,279.92 615.54,277.68 616.91,275.45 618.27,273.24 619.64,271.05 621.00,268.89 622.37,266.77 623.73,264.70 625.10,262.68 626.46,260.73 627.83,258.84 629.19,257.01 630.56,255.26 631.92,253.59 633.29,251.99 634.65,250.47 636.01,249.03 637.38,247.66 638.74,246.37 640.11,245.16 641.47,244.01 642.84,242.94 644.20,241.94 645.57,241.01 646.93,240.13 648.30,239.32 649.66,238.56 651.03,237.86 652.39,237.21 653.76,236.61 655.12,236.05 656.49,235.54" stroke="#a8161b" stroke-width="0.95" fill="none"/>
<polyline points="492.70,328.67 494.06,328.66 495.43,328.66 496.79,328.66 498.16,328.65 499.52,328.65 500.89,328.64 502.25,328.64 503.62,328.63 504.98,328.62 506.35,328.62 507.71,328.61 509.08,328.60 510.44,328.59 511.81,328.58 513.17,328.57 514.54,328.56 515.90,328.54 517.27,328.53 518.63,328.51 520.00,328.50 521.36,328.48 522.73,328.46 524.09,328.43 525.46,328.41 526.82,328.38 528.19,328.35 529.55,328.32 530.92,328.28 532.28,328.24 533.65,328.20 535.01,328.15 536.38,328.10 537.74,328.04 539.11,327.98 540.47,327.91 541.84,327.84 543.20,327.76 544.57,327.67 545.93,327.58 547.30,327.47 548.66,327.36 550.03,327.23 551.39,327.09 552.76,326.95 554.12,326.78 555.49,326.60 556.85,326.41 558.22,326.20 559.58,325.97 560.95,325.72 562.31,325.45 563.67,325.15 565.04,324.83 566.40,324.48 567.77,324.09 569.13,323.68 570.50,323.23 571.86,322.75 573.23,322.22 574.59,321.65 575.96,321.03 577.32,320.37 578.69,319.65 580.05,318.88 581.42,318.05 582.78,317.16 584.15,316.20 585.51,315.18 586.88,314.09 588.24,312.92 589.61,311.68 590.97,310.36 592.34,308.97 593.70,307.50 595.07,305.95 596.43,304.32 597.80,302.61 599.16,300.83 600.53,298.97 601.89,297.04 603.26,295.05 604.62,293.00 605.99,290.89 607.35,288.74 608.72,286.54 610.08,284.32 611.45,282.07 612.81,279.80 614.18,277.53 615.54,275.26 616.91,273.01 618.27,270.78 619.64,268.58 621.00,266.41 622.37,264.30 623.73,262.23 625.10,260.23 626.46,258.29 627.83,256.42 629.19,254.62 630.56,252.89 631.92,251.25 633.29,249.68 634.65,248.19 636.01,246.78 637.38,245.45 638.74,244.20 640.11,243.02 641.47,241.91 642.84,240.87 644.20,239.90 645.57,239.00 646.93,238.15 648.30,237.37 649.66,236.64 651.03,235.97 652.39,235.34 653.76,234.76 655.12,234.23 656.49,233.73" stroke="#111" stroke-width="0.95" fill="none"/>
<circle cx="593.67" cy="312.40" r="1.9" fill="#1b7f2b"/>
<circle cx="604.14" cy="294.00" r="1.9" fill="#1b7f2b"/>
<circle cx="614.61" cy="278.80" r="1.9" fill="#1b7f2b"/>
<circle cx="625.08" cy="273.60" r="1.9" fill="#1b7f2b"/>
<circle cx="635.55" cy="251.10" r="1.9" fill="#1b7f2b"/>
<circle cx="646.02" cy="246.10" r="1.9" fill="#1b7f2b"/>
<circle cx="656.49" cy="237.10" r="1.9" fill="#1b7f2b"/>
<circle cx="583.20" cy="323.00" r="1.9" fill="#a8161b"/>
<circle cx="614.61" cy="280.60" r="1.9" fill="#a8161b"/>
<circle cx="625.08" cy="266.00" r="1.9" fill="#a8161b"/>
<circle cx="635.55" cy="248.20" r="1.9" fill="#a8161b"/>
<circle cx="562.26" cy="327.00" r="1.9" fill="#111"/>
<circle cx="572.73" cy="327.00" r="1.9" fill="#111"/>
<circle cx="583.20" cy="322.00" r="1.9" fill="#111"/>
<circle cx="593.67" cy="310.40" r="1.9" fill="#111"/>
<circle cx="604.14" cy="292.80" r="1.9" fill="#111"/>
<circle cx="614.61" cy="274.70" r="1.9" fill="#111"/>
<circle cx="625.08" cy="260.70" r="1.9" fill="#111"/>
<circle cx="635.55" cy="245.30" r="1.9" fill="#111"/>
<circle cx="646.02" cy="244.40" r="1.9" fill="#111"/>
<circle cx="656.49" cy="235.00" r="1.9" fill="#111"/>
<circle cx="492.70" cy="328.70" r="1.9" fill="#111"/>
<text x="505.20" y="228.20" class="kd">Kd =</text>
<text x="504.00" y="243.60" class="kd">160 ± 12.8</text>
<path d="M65.80 371.10V488.20H242.30" stroke="#1a1a1a" stroke-width="1.15" fill="none"/>
<text x="59.30" y="491.25" class="tl" text-anchor="end">0.0</text>
<text x="59.30" y="452.22" class="tl" text-anchor="end">0.5</text>
<text x="59.30" y="413.18" class="tl" text-anchor="end">1.0</text>
<text x="59.30" y="374.15" class="tl" text-anchor="end">1.5</text>
<text x="81.90" y="502.90" class="tl" text-anchor="middle">0.1</text>
<text x="135.36" y="502.90" class="tl" text-anchor="middle">1</text>
<text x="188.83" y="502.90" class="tl" text-anchor="middle">10</text>
<text x="242.30" y="502.90" class="tl" text-anchor="middle">100</text>
<text x="65.80" y="500.80" class="tl" text-anchor="middle">0</text>
<path d="M60.60 488.20H65.80M60.60 449.17H65.80M60.60 410.13H65.80M60.60 371.10H65.80M70.03 488.20V490.90M73.61 488.20V490.90M76.71 488.20V490.90M79.45 488.20V490.90M97.99 488.20V490.90M107.41 488.20V490.90M114.09 488.20V490.90M119.27 488.20V490.90M123.50 488.20V490.90M127.08 488.20V490.90M130.18 488.20V490.90M132.92 488.20V490.90M151.46 488.20V490.90M160.87 488.20V490.90M167.55 488.20V490.90M172.74 488.20V490.90M176.97 488.20V490.90M180.55 488.20V490.90M183.65 488.20V490.90M186.39 488.20V490.90M204.93 488.20V490.90M214.34 488.20V490.90M221.02 488.20V490.90M226.20 488.20V490.90M230.44 488.20V490.90M234.02 488.20V490.90M237.12 488.20V490.90M239.85 488.20V490.90M81.90 488.20V492.60M135.36 488.20V492.60M188.83 488.20V492.60M242.30 488.20V492.60" stroke="#1a1a1a" stroke-width="1.15" fill="none"/>
<polyline points="65.80,487.10 67.27,487.03 68.74,486.95 70.21,486.87 71.68,486.79 73.15,486.70 74.62,486.60 76.10,486.50 77.57,486.39 79.04,486.28 80.51,486.15 81.98,486.02 83.45,485.89 84.92,485.74 86.39,485.58 87.86,485.42 89.33,485.24 90.80,485.06 92.28,484.86 93.75,484.65 95.22,484.43 96.69,484.20 98.16,483.95 99.63,483.69 101.10,483.41 102.57,483.12 104.04,482.81 105.51,482.48 106.98,482.14 108.45,481.78 109.92,481.39 111.40,480.99 112.87,480.56 114.34,480.12 115.81,479.64 117.28,479.15 118.75,478.63 120.22,478.09 121.69,477.52 123.16,476.92 124.63,476.29 126.10,475.64 127.58,474.96 129.05,474.25 130.52,473.50 131.99,472.73 133.46,471.93 134.93,471.10 136.40,470.24 137.87,469.35 139.34,468.43 140.81,467.48 142.28,466.50 143.75,465.50 145.22,464.46 146.70,463.40 148.17,462.32 149.64,461.21 151.11,460.08 152.58,458.94 154.05,457.77 155.52,456.58 156.99,455.39 158.46,454.17 159.93,452.95 161.40,451.73 162.88,450.49 164.35,449.26 165.82,448.02 167.29,446.79 168.76,445.56 170.23,444.34 171.70,443.13 173.17,441.93 174.64,440.74 176.11,439.57 177.58,438.42 179.05,437.28 180.52,436.17 182.00,435.09 183.47,434.02 184.94,432.99 186.41,431.98 187.88,430.99 189.35,430.04 190.82,429.12 192.29,428.22 193.76,427.36 195.23,426.52 196.70,425.71 198.18,424.94 199.65,424.19 201.12,423.48 202.59,422.79 204.06,422.14 205.53,421.51 207.00,420.90 208.47,420.33 209.94,419.78 211.41,419.26 212.88,418.76 214.35,418.29 215.82,417.83 217.30,417.41 218.77,417.00 220.24,416.61 221.71,416.25 223.18,415.90 224.65,415.57 226.12,415.26 227.59,414.96 229.06,414.68 230.53,414.42 232.00,414.17 233.48,413.93 234.95,413.71 236.42,413.50 237.89,413.30 239.36,413.12 240.83,412.94 242.30,412.77" stroke="#1b7f2b" stroke-width="0.95" fill="none"/>
<polyline points="65.80,487.03 67.27,486.96 68.74,486.88 70.21,486.80 71.68,486.71 73.15,486.61 74.62,486.51 76.10,486.40 77.57,486.28 79.04,486.16 80.51,486.03 81.98,485.90 83.45,485.75 84.92,485.60 86.39,485.43 87.86,485.26 89.33,485.07 90.80,484.88 92.28,484.67 93.75,484.45 95.22,484.22 96.69,483.97 98.16,483.71 99.63,483.43 101.10,483.14 102.57,482.83 104.04,482.51 105.51,482.16 106.98,481.80 108.45,481.42 109.92,481.02 111.40,480.59 112.87,480.15 114.34,479.68 115.81,479.19 117.28,478.67 118.75,478.13 120.22,477.56 121.69,476.96 123.16,476.34 124.63,475.69 126.10,475.01 127.58,474.30 129.05,473.56 130.52,472.79 131.99,471.99 133.46,471.16 134.93,470.30 136.40,469.42 137.87,468.50 139.34,467.55 140.81,466.57 142.28,465.57 143.75,464.54 145.22,463.48 146.70,462.40 148.17,461.29 149.64,460.17 151.11,459.02 152.58,457.85 154.05,456.67 155.52,455.47 156.99,454.26 158.46,453.04 159.93,451.81 161.40,450.58 162.88,449.35 164.35,448.11 165.82,446.88 167.29,445.65 168.76,444.42 170.23,443.21 171.70,442.01 173.17,440.82 174.64,439.65 176.11,438.50 177.58,437.36 179.05,436.25 180.52,435.16 182.00,434.10 183.47,433.06 184.94,432.05 186.41,431.06 187.88,430.11 189.35,429.18 190.82,428.28 192.29,427.42 193.76,426.58 195.23,425.77 196.70,424.99 198.18,424.25 199.65,423.53 201.12,422.84 202.59,422.18 204.06,421.55 205.53,420.95 207.00,420.37 208.47,419.82 209.94,419.29 211.41,418.79 212.88,418.32 214.35,417.87 215.82,417.44 217.30,417.03 218.77,416.64 220.24,416.27 221.71,415.92 223.18,415.59 224.65,415.28 226.12,414.98 227.59,414.70 229.06,414.44 230.53,414.19 232.00,413.95 233.48,413.73 234.95,413.52 236.42,413.32 237.89,413.13 239.36,412.95 240.83,412.78 242.30,412.63" stroke="#a8161b" stroke-width="0.95" fill="none"/>
<polyline points="65.80,487.03 67.27,486.96 68.74,486.88 70.21,486.79 71.68,486.70 73.15,486.61 74.62,486.51 76.10,486.40 77.57,486.28 79.04,486.16 80.51,486.03 81.98,485.89 83.45,485.75 84.92,485.59 86.39,485.43 87.86,485.25 89.33,485.07 90.80,484.87 92.28,484.66 93.75,484.44 95.22,484.21 96.69,483.96 98.16,483.70 99.63,483.42 101.10,483.13 102.57,482.82 104.04,482.49 105.51,482.14 106.98,481.78 108.45,481.39 109.92,480.98 111.40,480.56 112.87,480.10 114.34,479.63 115.81,479.13 117.28,478.61 118.75,478.06 120.22,477.48 121.69,476.87 123.16,476.24 124.63,475.58 126.10,474.89 127.58,474.16 129.05,473.41 130.52,472.62 131.99,471.81 133.46,470.96 134.93,470.08 136.40,469.16 137.87,468.22 139.34,467.24 140.81,466.24 142.28,465.20 143.75,464.13 145.22,463.04 146.70,461.92 148.17,460.77 149.64,459.59 151.11,458.40 152.58,457.18 154.05,455.94 155.52,454.69 156.99,453.42 158.46,452.13 159.93,450.84 161.40,449.54 162.88,448.23 164.35,446.92 165.82,445.61 167.29,444.30 168.76,443.00 170.23,441.71 171.70,440.42 173.17,439.15 174.64,437.89 176.11,436.65 177.58,435.43 179.05,434.23 180.52,433.05 182.00,431.90 183.47,430.77 184.94,429.67 186.41,428.60 187.88,427.56 189.35,426.55 190.82,425.57 192.29,424.62 193.76,423.70 195.23,422.82 196.70,421.97 198.18,421.14 199.65,420.35 201.12,419.60 202.59,418.87 204.06,418.17 205.53,417.50 207.00,416.87 208.47,416.26 209.94,415.68 211.41,415.12 212.88,414.59 214.35,414.09 215.82,413.61 217.30,413.16 218.77,412.73 220.24,412.32 221.71,411.93 223.18,411.56 224.65,411.21 226.12,410.88 227.59,410.57 229.06,410.27 230.53,409.99 232.00,409.73 233.48,409.48 234.95,409.24 236.42,409.02 237.89,408.81 239.36,408.61 240.83,408.42 242.30,408.25" stroke="#111" stroke-width="0.95" fill="none"/>
<circle cx="177.92" cy="433.60" r="1.9" fill="#1b7f2b"/>
<circle cx="210.11" cy="417.80" r="1.9" fill="#1b7f2b"/>
<circle cx="226.20" cy="413.40" r="1.9" fill="#1b7f2b"/>
<circle cx="242.30" cy="412.60" r="1.9" fill="#1b7f2b"/>
<circle cx="145.73" cy="459.30" r="1.9" fill="#a8161b"/>
<circle cx="161.82" cy="445.30" r="1.9" fill="#a8161b"/>
<circle cx="194.01" cy="424.20" r="1.9" fill="#a8161b"/>
<circle cx="97.40" cy="486.10" r="1.9" fill="#111"/>
<circle cx="113.50" cy="484.10" r="1.9" fill="#111"/>
<circle cx="129.59" cy="479.00" r="1.9" fill="#111"/>
<circle cx="129.59" cy="480.50" r="1.9" fill="#111"/>
<circle cx="145.73" cy="462.80" r="1.9" fill="#111"/>
<circle cx="161.82" cy="448.20" r="1.9" fill="#111"/>
<circle cx="177.92" cy="434.50" r="1.9" fill="#111"/>
<circle cx="194.01" cy="425.70" r="1.9" fill="#111"/>
<circle cx="210.11" cy="414.00" r="1.9" fill="#111"/>
<circle cx="226.20" cy="409.60" r="1.9" fill="#111"/>
<circle cx="242.30" cy="408.20" r="1.9" fill="#111"/>
<circle cx="65.80" cy="488.20" r="1.9" fill="#111"/>
<text x="77.80" y="387.60" class="kd">Kd =</text>
<text x="75.50" y="402.40" class="kd">3.51 ± 0.439</text>
<path d="M282.40 371.70V487.30H456.60" stroke="#1a1a1a" stroke-width="1.15" fill="none"/>
<text x="275.90" y="490.35" class="tl" text-anchor="end">0.0</text>
<text x="275.90" y="451.82" class="tl" text-anchor="end">0.5</text>
<text x="275.90" y="413.28" class="tl" text-anchor="end">1.0</text>
<text x="275.90" y="374.75" class="tl" text-anchor="end">1.5</text>
<text x="317.24" y="500.50" class="tl" text-anchor="middle">0.5</text>
<text x="352.08" y="500.50" class="tl" text-anchor="middle">5</text>
<text x="386.92" y="500.50" class="tl" text-anchor="middle">50</text>
<text x="421.76" y="500.50" class="tl" text-anchor="middle">500</text>
<text x="456.60" y="500.50" class="tl" text-anchor="middle">5000</text>
<text x="282.40" y="500.50" class="tl" text-anchor="middle">0</text>
<path d="M277.20 487.30H282.40M277.20 448.77H282.40M277.20 410.23H282.40M277.20 371.70H282.40M292.89 487.30V490.00M299.02 487.30V490.00M303.38 487.30V490.00M306.75 487.30V490.00M309.51 487.30V490.00M311.84 487.30V490.00M313.86 487.30V490.00M315.65 487.30V490.00M327.73 487.30V490.00M333.86 487.30V490.00M338.22 487.30V490.00M341.59 487.30V490.00M344.35 487.30V490.00M346.68 487.30V490.00M348.70 487.30V490.00M350.49 487.30V490.00M362.57 487.30V490.00M368.70 487.30V490.00M373.06 487.30V490.00M376.43 487.30V490.00M379.19 487.30V490.00M381.52 487.30V490.00M383.54 487.30V490.00M385.33 487.30V490.00M397.41 487.30V490.00M403.54 487.30V490.00M407.90 487.30V490.00M411.27 487.30V490.00M414.03 487.30V490.00M416.36 487.30V490.00M418.38 487.30V490.00M420.17 487.30V490.00M432.25 487.30V490.00M438.38 487.30V490.00M442.74 487.30V490.00M446.11 487.30V490.00M448.87 487.30V490.00M451.20 487.30V490.00M453.22 487.30V490.00M455.01 487.30V490.00M317.24 487.30V491.70M352.08 487.30V491.70M386.92 487.30V491.70M421.76 487.30V491.70M456.60 487.30V491.70M282.40 487.30V491.70" stroke="#1a1a1a" stroke-width="1.15" fill="none"/>
<polyline points="282.40,487.24 283.85,487.24 285.30,487.23 286.75,487.22 288.21,487.21 289.66,487.21 291.11,487.20 292.56,487.19 294.01,487.17 295.46,487.16 296.92,487.15 298.37,487.13 299.82,487.12 301.27,487.10 302.72,487.08 304.17,487.06 305.63,487.03 307.08,487.00 308.53,486.97 309.98,486.94 311.43,486.91 312.88,486.87 314.34,486.82 315.79,486.78 317.24,486.72 318.69,486.67 320.14,486.60 321.59,486.53 323.05,486.46 324.50,486.37 325.95,486.28 327.40,486.18 328.85,486.07 330.31,485.95 331.76,485.82 333.21,485.67 334.66,485.51 336.11,485.34 337.56,485.15 339.01,484.94 340.47,484.71 341.92,484.46 343.37,484.19 344.82,483.89 346.27,483.57 347.73,483.22 349.18,482.84 350.63,482.42 352.08,481.97 353.53,481.48 354.98,480.95 356.44,480.38 357.89,479.77 359.34,479.11 360.79,478.40 362.24,477.64 363.69,476.82 365.14,475.96 366.60,475.03 368.05,474.05 369.50,473.02 370.95,471.92 372.40,470.78 373.86,469.57 375.31,468.32 376.76,467.01 378.21,465.66 379.66,464.27 381.11,462.84 382.56,461.37 384.02,459.88 385.47,458.37 386.92,456.84 388.37,455.31 389.82,453.77 391.27,452.25 392.73,450.74 394.18,449.24 395.63,447.78 397.08,446.35 398.53,444.95 399.99,443.60 401.44,442.30 402.89,441.04 404.34,439.84 405.79,438.70 407.24,437.60 408.70,436.57 410.15,435.59 411.60,434.67 413.05,433.80 414.50,432.99 415.95,432.23 417.41,431.52 418.86,430.86 420.31,430.24 421.76,429.67 423.21,429.15 424.66,428.66 426.12,428.21 427.57,427.79 429.02,427.41 430.47,427.06 431.92,426.74 433.37,426.44 434.83,426.17 436.28,425.92 437.73,425.69 439.18,425.48 440.63,425.29 442.08,425.12 443.54,424.96 444.99,424.82 446.44,424.68 447.89,424.56 449.34,424.45 450.79,424.35 452.25,424.26 453.70,424.18 455.15,424.10 456.60,424.03" stroke="#1b7f2b" stroke-width="0.95" fill="none"/>
<polyline points="282.40,487.24 283.85,487.23 285.30,487.23 286.75,487.22 288.21,487.21 289.66,487.20 291.11,487.19 292.56,487.18 294.01,487.17 295.46,487.16 296.92,487.14 298.37,487.12 299.82,487.11 301.27,487.09 302.72,487.07 304.17,487.04 305.63,487.02 307.08,486.99 308.53,486.96 309.98,486.92 311.43,486.89 312.88,486.84 314.34,486.80 315.79,486.75 317.24,486.69 318.69,486.63 320.14,486.57 321.59,486.50 323.05,486.42 324.50,486.33 325.95,486.23 327.40,486.13 328.85,486.01 330.31,485.88 331.76,485.74 333.21,485.59 334.66,485.42 336.11,485.24 337.56,485.04 339.01,484.82 340.47,484.58 341.92,484.32 343.37,484.04 344.82,483.73 346.27,483.39 347.73,483.02 349.18,482.62 350.63,482.19 352.08,481.72 353.53,481.21 354.98,480.67 356.44,480.07 357.89,479.44 359.34,478.75 360.79,478.02 362.24,477.23 363.69,476.39 365.14,475.49 366.60,474.54 368.05,473.54 369.50,472.48 370.95,471.36 372.40,470.18 373.86,468.96 375.31,467.68 376.76,466.36 378.21,464.99 379.66,463.58 381.11,462.13 382.56,460.66 384.02,459.17 385.47,457.66 386.92,456.13 388.37,454.61 389.82,453.09 391.27,451.58 392.73,450.09 394.18,448.62 395.63,447.18 397.08,445.78 398.53,444.42 399.99,443.10 401.44,441.84 402.89,440.62 404.34,439.46 405.79,438.35 407.24,437.29 408.70,436.30 410.15,435.36 411.60,434.47 413.05,433.64 414.50,432.87 415.95,432.14 417.41,431.46 418.86,430.83 420.31,430.25 421.76,429.71 423.21,429.21 424.66,428.75 426.12,428.32 427.57,427.93 429.02,427.57 430.47,427.23 431.92,426.93 433.37,426.65 434.83,426.39 436.28,426.16 437.73,425.94 439.18,425.74 440.63,425.56 442.08,425.40 443.54,425.25 444.99,425.11 446.44,424.99 447.89,424.87 449.34,424.77 450.79,424.68 452.25,424.59 453.70,424.51 455.15,424.44 456.60,424.37" stroke="#a8161b" stroke-width="0.95" fill="none"/>
<polyline points="282.40,487.22 283.85,487.21 285.30,487.20 286.75,487.19 288.21,487.18 289.66,487.16 291.11,487.15 292.56,487.14 294.01,487.12 295.46,487.10 296.92,487.08 298.37,487.06 299.82,487.03 301.27,487.01 302.72,486.98 304.17,486.95 305.63,486.91 307.08,486.87 308.53,486.83 309.98,486.78 311.43,486.73 312.88,486.67 314.34,486.61 315.79,486.54 317.24,486.47 318.69,486.38 320.14,486.29 321.59,486.19 323.05,486.09 324.50,485.97 325.95,485.83 327.40,485.69 328.85,485.53 330.31,485.36 331.76,485.17 333.21,484.96 334.66,484.74 336.11,484.49 337.56,484.22 339.01,483.92 340.47,483.60 341.92,483.25 343.37,482.87 344.82,482.46 346.27,482.01 347.73,481.52 349.18,480.99 350.63,480.42 352.08,479.81 353.53,479.14 354.98,478.43 356.44,477.67 357.89,476.85 359.34,475.97 360.79,475.04 362.24,474.04 363.69,472.99 365.14,471.88 366.60,470.71 368.05,469.48 369.50,468.20 370.95,466.86 372.40,465.46 373.86,464.02 375.31,462.54 376.76,461.02 378.21,459.47 379.66,457.88 381.11,456.29 382.56,454.67 384.02,453.06 385.47,451.44 386.92,449.84 388.37,448.25 389.82,446.69 391.27,445.15 392.73,443.65 394.18,442.20 395.63,440.79 397.08,439.43 398.53,438.13 399.99,436.88 401.44,435.69 402.89,434.55 404.34,433.48 405.79,432.47 407.24,431.52 408.70,430.62 410.15,429.78 411.60,429.00 413.05,428.27 414.50,427.58 415.95,426.95 417.41,426.37 418.86,425.82 420.31,425.32 421.76,424.86 423.21,424.44 424.66,424.04 426.12,423.68 427.57,423.35 429.02,423.05 430.47,422.77 431.92,422.51 433.37,422.28 434.83,422.07 436.28,421.87 437.73,421.69 439.18,421.53 440.63,421.38 442.08,421.25 443.54,421.12 444.99,421.01 446.44,420.91 447.89,420.81 449.34,420.73 450.79,420.65 452.25,420.58 453.70,420.51 455.15,420.46 456.60,420.40" stroke="#111" stroke-width="0.95" fill="none"/>
<circle cx="359.19" cy="476.80" r="1.9" fill="#1b7f2b"/>
<circle cx="383.54" cy="462.20" r="1.9" fill="#1b7f2b"/>
<circle cx="407.90" cy="433.00" r="1.9" fill="#1b7f2b"/>
<circle cx="456.60" cy="425.70" r="1.9" fill="#1b7f2b"/>
<circle cx="334.84" cy="479.70" r="1.9" fill="#a8161b"/>
<circle cx="407.90" cy="435.30" r="1.9" fill="#a8161b"/>
<circle cx="432.25" cy="427.70" r="1.9" fill="#a8161b"/>
<circle cx="286.14" cy="486.10" r="1.9" fill="#111"/>
<circle cx="310.49" cy="485.00" r="1.9" fill="#111"/>
<circle cx="334.84" cy="481.20" r="1.9" fill="#111"/>
<circle cx="359.19" cy="478.20" r="1.9" fill="#111"/>
<circle cx="383.54" cy="457.80" r="1.9" fill="#111"/>
<circle cx="407.90" cy="427.20" r="1.9" fill="#111"/>
<circle cx="432.25" cy="423.40" r="1.9" fill="#111"/>
<circle cx="456.60" cy="421.90" r="1.9" fill="#111"/>
<text x="294.90" y="387.70" class="kd">Kd =</text>
<text x="293.10" y="402.90" class="kd">46.9 ± 4.16</text>
<path d="M495.40 371.70V487.30H668.00" stroke="#1a1a1a" stroke-width="1.15" fill="none"/>
<text x="488.90" y="490.35" class="tl" text-anchor="end">0.0</text>
<text x="488.90" y="471.08" class="tl" text-anchor="end">0.1</text>
<text x="488.90" y="451.82" class="tl" text-anchor="end">0.2</text>
<text x="488.90" y="432.55" class="tl" text-anchor="end">0.3</text>
<text x="488.90" y="413.28" class="tl" text-anchor="end">0.4</text>
<text x="488.90" y="394.02" class="tl" text-anchor="end">0.5</text>
<text x="488.90" y="374.75" class="tl" text-anchor="end">0.6</text>
<text x="529.92" y="501.20" class="tl" text-anchor="middle">0.5</text>
<text x="564.44" y="501.20" class="tl" text-anchor="middle">5</text>
<text x="598.96" y="501.20" class="tl" text-anchor="middle">50</text>
<text x="633.48" y="501.20" class="tl" text-anchor="middle">500</text>
<text x="668.00" y="501.20" class="tl" text-anchor="middle">5000</text>
<text x="495.40" y="499.80" class="tl" text-anchor="middle">0</text>
<path d="M490.20 487.30H495.40M490.20 468.03H495.40M490.20 448.77H495.40M490.20 429.50H495.40M490.20 410.23H495.40M490.20 390.97H495.40M490.20 371.70H495.40M505.79 487.30V490.00M511.87 487.30V490.00M516.18 487.30V490.00M519.53 487.30V490.00M522.26 487.30V490.00M524.57 487.30V490.00M526.57 487.30V490.00M528.34 487.30V490.00M540.31 487.30V490.00M546.39 487.30V490.00M550.70 487.30V490.00M554.05 487.30V490.00M556.78 487.30V490.00M559.09 487.30V490.00M561.09 487.30V490.00M562.86 487.30V490.00M574.83 487.30V490.00M580.91 487.30V490.00M585.22 487.30V490.00M588.57 487.30V490.00M591.30 487.30V490.00M593.61 487.30V490.00M595.61 487.30V490.00M597.38 487.30V490.00M609.35 487.30V490.00M615.43 487.30V490.00M619.74 487.30V490.00M623.09 487.30V490.00M625.82 487.30V490.00M628.13 487.30V490.00M630.13 487.30V490.00M631.90 487.30V490.00M643.87 487.30V490.00M649.95 487.30V490.00M654.26 487.30V490.00M657.61 487.30V490.00M660.34 487.30V490.00M662.65 487.30V490.00M664.65 487.30V490.00M666.42 487.30V490.00M529.92 487.30V491.70M564.44 487.30V491.70M598.96 487.30V491.70M633.48 487.30V491.70M668.00 487.30V491.70M495.40 487.30V491.70" stroke="#1a1a1a" stroke-width="1.15" fill="none"/>
<polyline points="495.40,487.28 496.75,487.28 498.11,487.28 499.46,487.28 500.82,487.28 502.17,487.28 503.53,487.27 504.88,487.27 506.24,487.27 507.59,487.26 508.95,487.26 510.30,487.26 511.66,487.25 513.01,487.25 514.37,487.24 515.72,487.24 517.08,487.23 518.43,487.23 519.78,487.22 521.14,487.21 522.49,487.21 523.85,487.20 525.20,487.19 526.56,487.18 527.91,487.16 529.27,487.15 530.62,487.14 531.98,487.12 533.33,487.10 534.69,487.09 536.04,487.07 537.40,487.04 538.75,487.02 540.11,486.99 541.46,486.96 542.81,486.93 544.17,486.90 545.52,486.86 546.88,486.82 548.23,486.77 549.59,486.73 550.94,486.67 552.30,486.61 553.65,486.55 555.01,486.48 556.36,486.40 557.72,486.32 559.07,486.22 560.43,486.12 561.78,486.01 563.13,485.89 564.49,485.76 565.84,485.62 567.20,485.46 568.55,485.29 569.91,485.11 571.26,484.91 572.62,484.69 573.97,484.45 575.33,484.19 576.68,483.90 578.04,483.60 579.39,483.26 580.75,482.90 582.10,482.50 583.46,482.07 584.81,481.61 586.16,481.11 587.52,480.56 588.87,479.98 590.23,479.34 591.58,478.66 592.94,477.92 594.29,477.13 595.65,476.29 597.00,475.38 598.36,474.40 599.71,473.37 601.07,472.26 602.42,471.09 603.78,469.84 605.13,468.52 606.49,467.13 607.84,465.66 609.19,464.12 610.55,462.51 611.90,460.83 613.26,459.08 614.61,457.27 615.97,455.40 617.32,453.48 618.68,451.50 620.03,449.49 621.39,447.44 622.74,445.36 624.10,443.26 625.45,441.16 626.81,439.05 628.16,436.94 629.52,434.85 630.87,432.79 632.22,430.75 633.58,428.75 634.93,426.80 636.29,424.90 637.64,423.06 639.00,421.27 640.35,419.56 641.71,417.91 643.06,416.33 644.42,414.82 645.77,413.39 647.13,412.03 648.48,410.74 649.84,409.53 651.19,408.39 652.55,407.31 653.90,406.30 655.25,405.36 656.61,404.48 657.96,403.66" stroke="#1b7f2b" stroke-width="0.95" fill="none"/>
<polyline points="495.40,487.28 496.75,487.28 498.11,487.28 499.46,487.28 500.82,487.28 502.17,487.27 503.53,487.27 504.88,487.27 506.24,487.27 507.59,487.26 508.95,487.26 510.30,487.25 511.66,487.25 513.01,487.25 514.37,487.24 515.72,487.24 517.08,487.23 518.43,487.22 519.78,487.21 521.14,487.21 522.49,487.20 523.85,487.19 525.20,487.18 526.56,487.17 527.91,487.15 529.27,487.14 530.62,487.12 531.98,487.11 533.33,487.09 534.69,487.07 536.04,487.05 537.40,487.02 538.75,487.00 540.11,486.97 541.46,486.94 542.81,486.91 544.17,486.87 545.52,486.83 546.88,486.78 548.23,486.73 549.59,486.68 550.94,486.62 552.30,486.56 553.65,486.49 555.01,486.41 556.36,486.33 557.72,486.24 559.07,486.14 560.43,486.03 561.78,485.92 563.13,485.79 564.49,485.65 565.84,485.50 567.20,485.33 568.55,485.15 569.91,484.95 571.26,484.73 572.62,484.50 573.97,484.24 575.33,483.96 576.68,483.66 578.04,483.33 579.39,482.97 580.75,482.58 582.10,482.16 583.46,481.71 584.81,481.21 586.16,480.68 587.52,480.10 588.87,479.48 590.23,478.81 591.58,478.09 592.94,477.32 594.29,476.48 595.65,475.59 597.00,474.64 598.36,473.62 599.71,472.54 601.07,471.39 602.42,470.17 603.78,468.88 605.13,467.52 606.49,466.09 607.84,464.58 609.19,463.01 610.55,461.37 611.90,459.67 613.26,457.90 614.61,456.08 615.97,454.21 617.32,452.29 618.68,450.33 620.03,448.34 621.39,446.32 622.74,444.29 624.10,442.24 625.45,440.20 626.81,438.16 628.16,436.14 629.52,434.14 630.87,432.18 632.22,430.25 633.58,428.36 634.93,426.53 636.29,424.75 637.64,423.03 639.00,421.38 640.35,419.79 641.71,418.28 643.06,416.83 644.42,415.45 645.77,414.15 647.13,412.91 648.48,411.75 649.84,410.65 651.19,409.62 652.55,408.65 653.90,407.75 655.25,406.91 656.61,406.12 657.96,405.39" stroke="#a8161b" stroke-width="0.95" fill="none"/>
<polyline points="495.40,487.28 496.75,487.28 498.11,487.28 499.46,487.28 500.82,487.28 502.17,487.27 503.53,487.27 504.88,487.27 506.24,487.27 507.59,487.26 508.95,487.26 510.30,487.26 511.66,487.25 513.01,487.25 514.37,487.24 515.72,487.24 517.08,487.23 518.43,487.23 519.78,487.22 521.14,487.21 522.49,487.20 523.85,487.19 525.20,487.18 526.56,487.17 527.91,487.16 529.27,487.15 530.62,487.13 531.98,487.12 533.33,487.10 534.69,487.08 536.04,487.06 537.40,487.04 538.75,487.01 540.11,486.99 541.46,486.96 542.81,486.92 544.17,486.89 545.52,486.85 546.88,486.81 548.23,486.76 549.59,486.71 550.94,486.66 552.30,486.60 553.65,486.53 555.01,486.46 556.36,486.38 557.72,486.29 559.07,486.20 560.43,486.10 561.78,485.98 563.13,485.86 564.49,485.73 565.84,485.58 567.20,485.42 568.55,485.25 569.91,485.06 571.26,484.85 572.62,484.63 573.97,484.38 575.33,484.12 576.68,483.83 578.04,483.51 579.39,483.17 580.75,482.80 582.10,482.40 583.46,481.96 584.81,481.49 586.16,480.97 587.52,480.42 588.87,479.82 590.23,479.18 591.58,478.48 592.94,477.73 594.29,476.93 595.65,476.07 597.00,475.15 598.36,474.16 599.71,473.11 601.07,471.99 602.42,470.80 603.78,469.54 605.13,468.20 606.49,466.80 607.84,465.32 609.19,463.77 610.55,462.15 611.90,460.46 613.26,458.71 614.61,456.89 615.97,455.02 617.32,453.10 618.68,451.13 620.03,449.12 621.39,447.08 622.74,445.02 624.10,442.94 625.45,440.85 626.81,438.76 628.16,436.68 629.52,434.62 630.87,432.59 632.22,430.59 633.58,428.63 634.93,426.71 636.29,424.85 637.64,423.05 639.00,421.31 640.35,419.63 641.71,418.03 643.06,416.49 644.42,415.03 645.77,413.64 647.13,412.32 648.48,411.07 649.84,409.90 651.19,408.79 652.55,407.75 653.90,406.78 655.25,405.87 656.61,405.02 657.96,404.23" stroke="#111" stroke-width="0.95" fill="none"/>
<circle cx="574.83" cy="484.10" r="1.9" fill="#1b7f2b"/>
<circle cx="585.22" cy="479.50" r="1.9" fill="#1b7f2b"/>
<circle cx="595.61" cy="476.80" r="1.9" fill="#1b7f2b"/>
<circle cx="626.79" cy="435.30" r="1.9" fill="#1b7f2b"/>
<circle cx="637.18" cy="416.40" r="1.9" fill="#1b7f2b"/>
<circle cx="657.96" cy="401.50" r="1.9" fill="#1b7f2b"/>
<circle cx="606.01" cy="469.50" r="1.9" fill="#a8161b"/>
<circle cx="616.40" cy="453.40" r="1.9" fill="#a8161b"/>
<circle cx="637.18" cy="419.90" r="1.9" fill="#a8161b"/>
<circle cx="647.57" cy="410.50" r="1.9" fill="#a8161b"/>
<circle cx="657.96" cy="408.20" r="1.9" fill="#a8161b"/>
<circle cx="564.44" cy="486.10" r="1.9" fill="#111"/>
<circle cx="574.83" cy="481.20" r="1.9" fill="#111"/>
<circle cx="585.22" cy="477.70" r="1.9" fill="#111"/>
<circle cx="595.61" cy="473.90" r="1.9" fill="#111"/>
<circle cx="606.01" cy="471.00" r="1.9" fill="#111"/>
<circle cx="616.40" cy="457.20" r="1.9" fill="#111"/>
<circle cx="626.79" cy="438.20" r="1.9" fill="#111"/>
<circle cx="637.18" cy="421.30" r="1.9" fill="#111"/>
<circle cx="647.57" cy="414.00" r="1.9" fill="#111"/>
<circle cx="657.96" cy="403.20" r="1.9" fill="#111"/>
<circle cx="495.40" cy="487.30" r="1.9" fill="#111"/>
<text x="508.00" y="387.80" class="kd">Kd =</text>
<text x="507.40" y="402.90" class="kd">281 ± 29.7</text>
<path d="M67.60 529.30V646.80H243.80" stroke="#1a1a1a" stroke-width="1.15" fill="none"/>
<text x="61.10" y="649.85" class="tl" text-anchor="end">0.0</text>
<text x="61.10" y="610.68" class="tl" text-anchor="end">0.5</text>
<text x="61.10" y="571.52" class="tl" text-anchor="end">1.0</text>
<text x="61.10" y="532.35" class="tl" text-anchor="end">1.5</text>
<text x="83.67" y="661.50" class="tl" text-anchor="middle">0.1</text>
<text x="137.05" y="661.50" class="tl" text-anchor="middle">1</text>
<text x="190.42" y="661.50" class="tl" text-anchor="middle">10</text>
<text x="243.80" y="661.50" class="tl" text-anchor="middle">100</text>
<text x="67.60" y="659.40" class="tl" text-anchor="middle">0</text>
<path d="M62.40 646.80H67.60M62.40 607.63H67.60M62.40 568.47H67.60M62.40 529.30H67.60M71.83 646.80V649.50M75.40 646.80V649.50M78.50 646.80V649.50M81.23 646.80V649.50M99.74 646.80V649.50M109.14 646.80V649.50M115.80 646.80V649.50M120.98 646.80V649.50M125.20 646.80V649.50M128.78 646.80V649.50M131.87 646.80V649.50M134.60 646.80V649.50M153.11 646.80V649.50M162.51 646.80V649.50M169.18 646.80V649.50M174.35 646.80V649.50M178.58 646.80V649.50M182.15 646.80V649.50M185.25 646.80V649.50M187.98 646.80V649.50M206.49 646.80V649.50M215.89 646.80V649.50M222.56 646.80V649.50M227.73 646.80V649.50M231.96 646.80V649.50M235.53 646.80V649.50M238.63 646.80V649.50M241.36 646.80V649.50M83.67 646.80V651.20M137.05 646.80V651.20M190.42 646.80V651.20M243.80 646.80V651.20" stroke="#1a1a1a" stroke-width="1.15" fill="none"/>
<polyline points="67.60,645.48 69.07,645.39 70.54,645.30 72.00,645.21 73.47,645.11 74.94,645.00 76.41,644.88 77.88,644.76 79.35,644.63 80.81,644.49 82.28,644.35 83.75,644.19 85.22,644.03 86.69,643.85 88.16,643.67 89.62,643.47 91.09,643.27 92.56,643.05 94.03,642.81 95.50,642.57 96.97,642.31 98.44,642.03 99.90,641.74 101.37,641.43 102.84,641.10 104.31,640.76 105.78,640.40 107.25,640.02 108.71,639.61 110.18,639.19 111.65,638.74 113.12,638.27 114.59,637.78 116.06,637.26 117.52,636.72 118.99,636.15 120.46,635.55 121.93,634.93 123.40,634.28 124.86,633.60 126.33,632.89 127.80,632.15 129.27,631.38 130.74,630.59 132.21,629.76 133.68,628.90 135.14,628.01 136.61,627.09 138.08,626.14 139.55,625.17 141.02,624.17 142.49,623.13 143.95,622.08 145.42,621.00 146.89,619.89 148.36,618.76 149.83,617.62 151.30,616.45 152.76,615.27 154.23,614.08 155.70,612.87 157.17,611.65 158.64,610.42 160.10,609.19 161.57,607.96 163.04,606.72 164.51,605.49 165.98,604.27 167.45,603.05 168.91,601.84 170.38,600.64 171.85,599.45 173.32,598.28 174.79,597.13 176.26,596.00 177.72,594.89 179.19,593.80 180.66,592.74 182.13,591.71 183.60,590.70 185.07,589.72 186.53,588.76 188.00,587.84 189.47,586.94 190.94,586.08 192.41,585.24 193.88,584.44 195.35,583.66 196.81,582.92 198.28,582.20 199.75,581.52 201.22,580.86 202.69,580.23 204.16,579.63 205.62,579.06 207.09,578.51 208.56,577.98 210.03,577.49 211.50,577.01 212.97,576.56 214.43,576.13 215.90,575.73 217.37,575.34 218.84,574.97 220.31,574.62 221.77,574.30 223.24,573.98 224.71,573.69 226.18,573.41 227.65,573.15 229.12,572.90 230.59,572.66 232.05,572.44 233.52,572.23 234.99,572.03 236.46,571.84 237.93,571.67 239.39,571.50 240.86,571.34 242.33,571.19 243.80,571.05" stroke="#1b7f2b" stroke-width="0.95" fill="none"/>
<polyline points="67.60,645.47 69.07,645.38 70.54,645.29 72.00,645.20 73.47,645.09 74.94,644.99 76.41,644.87 77.88,644.75 79.35,644.62 80.81,644.48 82.28,644.33 83.75,644.18 85.22,644.01 86.69,643.83 88.16,643.65 89.62,643.45 91.09,643.24 92.56,643.02 94.03,642.79 95.50,642.54 96.97,642.28 98.44,642.00 99.90,641.71 101.37,641.40 102.84,641.07 104.31,640.72 105.78,640.36 107.25,639.98 108.71,639.57 110.18,639.15 111.65,638.70 113.12,638.23 114.59,637.73 116.06,637.21 117.52,636.67 118.99,636.10 120.46,635.50 121.93,634.88 123.40,634.22 124.86,633.54 126.33,632.83 127.80,632.09 129.27,631.32 130.74,630.53 132.21,629.70 133.68,628.84 135.14,627.95 136.61,627.04 138.08,626.09 139.55,625.12 141.02,624.12 142.49,623.09 143.95,622.03 145.42,620.96 146.89,619.86 148.36,618.74 149.83,617.60 151.30,616.44 152.76,615.26 154.23,614.08 155.70,612.88 157.17,611.67 158.64,610.45 160.10,609.23 161.57,608.01 163.04,606.79 164.51,605.57 165.98,604.36 167.45,603.16 168.91,601.96 170.38,600.78 171.85,599.61 173.32,598.46 174.79,597.32 176.26,596.21 177.72,595.12 179.19,594.05 180.66,593.00 182.13,591.98 183.60,590.99 185.07,590.03 186.53,589.09 188.00,588.18 189.47,587.31 190.94,586.46 192.41,585.64 193.88,584.85 195.35,584.09 196.81,583.36 198.28,582.66 199.75,581.99 201.22,581.35 202.69,580.73 204.16,580.15 205.62,579.59 207.09,579.05 208.56,578.54 210.03,578.05 211.50,577.59 212.97,577.15 214.43,576.73 215.90,576.33 217.37,575.96 218.84,575.60 220.31,575.26 221.77,574.94 223.24,574.63 224.71,574.35 226.18,574.07 227.65,573.82 229.12,573.57 230.59,573.34 232.05,573.13 233.52,572.92 234.99,572.73 236.46,572.55 237.93,572.37 239.39,572.21 240.86,572.06 242.33,571.92 243.80,571.78" stroke="#a8161b" stroke-width="0.95" fill="none"/>
<polyline points="67.60,645.45 69.07,645.37 70.54,645.27 72.00,645.18 73.47,645.07 74.94,644.96 76.41,644.84 77.88,644.72 79.35,644.59 80.81,644.45 82.28,644.30 83.75,644.14 85.22,643.97 86.69,643.79 88.16,643.60 89.62,643.40 91.09,643.19 92.56,642.96 94.03,642.73 95.50,642.47 96.97,642.21 98.44,641.92 99.90,641.62 101.37,641.31 102.84,640.98 104.31,640.62 105.78,640.25 107.25,639.86 108.71,639.45 110.18,639.01 111.65,638.55 113.12,638.07 114.59,637.56 116.06,637.03 117.52,636.47 118.99,635.89 120.46,635.27 121.93,634.63 123.40,633.96 124.86,633.26 126.33,632.53 127.80,631.76 129.27,630.97 130.74,630.14 132.21,629.29 133.68,628.40 135.14,627.48 136.61,626.52 138.08,625.54 139.55,624.53 141.02,623.48 142.49,622.41 143.95,621.31 145.42,620.18 146.89,619.03 148.36,617.85 149.83,616.66 151.30,615.44 152.76,614.20 154.23,612.94 155.70,611.68 157.17,610.39 158.64,609.11 160.10,607.81 161.57,606.51 163.04,605.21 164.51,603.90 165.98,602.61 167.45,601.32 168.91,600.03 170.38,598.76 171.85,597.50 173.32,596.26 174.79,595.03 176.26,593.83 177.72,592.65 179.19,591.49 180.66,590.35 182.13,589.24 183.60,588.16 185.07,587.11 186.53,586.09 188.00,585.10 189.47,584.14 190.94,583.21 192.41,582.31 193.88,581.44 195.35,580.61 196.81,579.81 198.28,579.03 199.75,578.29 201.22,577.58 202.69,576.90 204.16,576.25 205.62,575.63 207.09,575.04 208.56,574.47 210.03,573.93 211.50,573.42 212.97,572.93 214.43,572.47 215.90,572.02 217.37,571.60 218.84,571.21 220.31,570.83 221.77,570.47 223.24,570.13 224.71,569.81 226.18,569.51 227.65,569.22 229.12,568.95 230.59,568.69 232.05,568.45 233.52,568.22 234.99,568.01 236.46,567.80 237.93,567.61 239.39,567.43 240.86,567.26 242.33,567.10 243.80,566.95" stroke="#111" stroke-width="0.95" fill="none"/>
<circle cx="131.29" cy="634.00" r="1.9" fill="#1b7f2b"/>
<circle cx="195.60" cy="586.60" r="1.9" fill="#1b7f2b"/>
<circle cx="227.73" cy="573.10" r="1.9" fill="#1b7f2b"/>
<circle cx="147.39" cy="617.20" r="1.9" fill="#a8161b"/>
<circle cx="163.46" cy="599.70" r="1.9" fill="#a8161b"/>
<circle cx="179.53" cy="590.70" r="1.9" fill="#a8161b"/>
<circle cx="211.66" cy="576.90" r="1.9" fill="#a8161b"/>
<circle cx="243.80" cy="572.00" r="1.9" fill="#a8161b"/>
<circle cx="99.15" cy="645.00" r="1.9" fill="#111"/>
<circle cx="115.22" cy="641.20" r="1.9" fill="#111"/>
<circle cx="131.29" cy="635.20" r="1.9" fill="#111"/>
<circle cx="147.39" cy="621.30" r="1.9" fill="#111"/>
<circle cx="163.46" cy="602.30" r="1.9" fill="#111"/>
<circle cx="179.53" cy="589.50" r="1.9" fill="#111"/>
<circle cx="195.60" cy="583.60" r="1.9" fill="#111"/>
<circle cx="211.66" cy="574.90" r="1.9" fill="#111"/>
<circle cx="227.73" cy="569.60" r="1.9" fill="#111"/>
<circle cx="243.80" cy="566.70" r="1.9" fill="#111"/>
<circle cx="67.60" cy="646.80" r="1.9" fill="#111"/>
<text x="78.90" y="546.00" class="kd">Kd =</text>
<text x="78.80" y="563.80" class="kd">2.99 ± 0.259</text>
<path d="M281.90 529.50V646.30H456.00" stroke="#1a1a1a" stroke-width="1.15" fill="none"/>
<text x="275.40" y="649.35" class="tl" text-anchor="end">0.0</text>
<text x="275.40" y="610.42" class="tl" text-anchor="end">0.5</text>
<text x="275.40" y="571.48" class="tl" text-anchor="end">1.0</text>
<text x="275.40" y="532.55" class="tl" text-anchor="end">1.5</text>
<text x="316.72" y="659.50" class="tl" text-anchor="middle">0.5</text>
<text x="351.54" y="659.50" class="tl" text-anchor="middle">5</text>
<text x="386.36" y="659.50" class="tl" text-anchor="middle">50</text>
<text x="421.18" y="659.50" class="tl" text-anchor="middle">500</text>
<text x="456.00" y="659.50" class="tl" text-anchor="middle">5000</text>
<text x="281.90" y="659.50" class="tl" text-anchor="middle">0</text>
<path d="M276.70 646.30H281.90M276.70 607.37H281.90M276.70 568.43H281.90M276.70 529.50H281.90M292.38 646.30V649.00M298.51 646.30V649.00M302.86 646.30V649.00M306.24 646.30V649.00M309.00 646.30V649.00M311.33 646.30V649.00M313.35 646.30V649.00M315.13 646.30V649.00M327.20 646.30V649.00M333.33 646.30V649.00M337.68 646.30V649.00M341.06 646.30V649.00M343.82 646.30V649.00M346.15 646.30V649.00M348.17 646.30V649.00M349.95 646.30V649.00M362.02 646.30V649.00M368.15 646.30V649.00M372.50 646.30V649.00M375.88 646.30V649.00M378.64 646.30V649.00M380.97 646.30V649.00M382.99 646.30V649.00M384.77 646.30V649.00M396.84 646.30V649.00M402.97 646.30V649.00M407.32 646.30V649.00M410.70 646.30V649.00M413.46 646.30V649.00M415.79 646.30V649.00M417.81 646.30V649.00M419.59 646.30V649.00M431.66 646.30V649.00M437.79 646.30V649.00M442.14 646.30V649.00M445.52 646.30V649.00M448.28 646.30V649.00M450.61 646.30V649.00M452.63 646.30V649.00M454.41 646.30V649.00M316.72 646.30V650.70M351.54 646.30V650.70M386.36 646.30V650.70M421.18 646.30V650.70M456.00 646.30V650.70M281.90 646.30V650.70" stroke="#1a1a1a" stroke-width="1.15" fill="none"/>
<polyline points="281.90,644.65 283.35,644.49 284.80,644.31 286.25,644.12 287.70,643.91 289.15,643.67 290.60,643.42 292.06,643.14 293.51,642.83 294.96,642.50 296.41,642.13 297.86,641.73 299.31,641.30 300.76,640.83 302.21,640.32 303.66,639.76 305.11,639.15 306.56,638.50 308.01,637.79 309.47,637.02 310.92,636.20 312.37,635.31 313.82,634.35 315.27,633.33 316.72,632.23 318.17,631.06 319.62,629.82 321.07,628.50 322.52,627.10 323.97,625.63 325.42,624.08 326.88,622.45 328.33,620.75 329.78,618.99 331.23,617.15 332.68,615.26 334.13,613.32 335.58,611.33 337.03,609.30 338.48,607.25 339.93,605.17 341.38,603.08 342.83,600.99 344.29,598.91 345.74,596.84 347.19,594.80 348.64,592.80 350.09,590.84 351.54,588.92 352.99,587.07 354.44,585.28 355.89,583.56 357.34,581.90 358.79,580.32 360.25,578.82 361.70,577.40 363.15,576.05 364.60,574.77 366.05,573.58 367.50,572.46 368.95,571.40 370.40,570.42 371.85,569.51 373.30,568.66 374.75,567.88 376.20,567.15 377.65,566.47 379.11,565.85 380.56,565.27 382.01,564.74 383.46,564.26 384.91,563.81 386.36,563.40 387.81,563.02 389.26,562.68 390.71,562.36 392.16,562.07 393.61,561.81 395.06,561.57 396.52,561.35 397.97,561.14 399.42,560.96 400.87,560.79 402.32,560.64 403.77,560.50 405.22,560.37 406.67,560.26 408.12,560.15 409.57,560.06 411.02,559.97 412.48,559.89 413.93,559.82 415.38,559.75 416.83,559.69 418.28,559.64 419.73,559.59 421.18,559.54 422.63,559.50 424.08,559.46 425.53,559.43 426.98,559.40 428.43,559.37 429.88,559.34 431.34,559.32 432.79,559.30 434.24,559.28 435.69,559.26 437.14,559.25 438.59,559.23 440.04,559.22 441.49,559.21 442.94,559.20 444.39,559.19 445.84,559.18 447.30,559.17 448.75,559.16 450.20,559.16 451.65,559.15 453.10,559.14 454.55,559.14 456.00,559.13" stroke="#1b7f2b" stroke-width="0.95" fill="none"/>
<polyline points="281.90,644.93 283.35,644.80 284.80,644.65 286.25,644.49 287.70,644.31 289.15,644.12 290.60,643.90 292.06,643.67 293.51,643.41 294.96,643.13 296.41,642.83 297.86,642.49 299.31,642.13 300.76,641.73 302.21,641.30 303.66,640.83 305.11,640.32 306.56,639.76 308.01,639.16 309.47,638.51 310.92,637.80 312.37,637.04 313.82,636.22 315.27,635.34 316.72,634.40 318.17,633.38 319.62,632.30 321.07,631.15 322.52,629.92 323.97,628.62 325.42,627.25 326.88,625.81 328.33,624.29 329.78,622.70 331.23,621.04 332.68,619.32 334.13,617.54 335.58,615.71 337.03,613.83 338.48,611.91 339.93,609.96 341.38,607.98 342.83,605.99 344.29,603.99 345.74,602.00 347.19,600.02 348.64,598.05 350.09,596.12 351.54,594.23 352.99,592.38 354.44,590.58 355.89,588.84 357.34,587.16 358.79,585.55 360.25,584.00 361.70,582.53 363.15,581.13 364.60,579.81 366.05,578.56 367.50,577.38 368.95,576.27 370.40,575.23 371.85,574.26 373.30,573.36 374.75,572.52 376.20,571.74 377.65,571.02 379.11,570.35 380.56,569.73 382.01,569.16 383.46,568.63 384.91,568.14 386.36,567.70 387.81,567.29 389.26,566.91 390.71,566.57 392.16,566.25 393.61,565.97 395.06,565.70 396.52,565.46 397.97,565.24 399.42,565.04 400.87,564.85 402.32,564.69 403.77,564.53 405.22,564.39 406.67,564.27 408.12,564.15 409.57,564.05 411.02,563.95 412.48,563.86 413.93,563.78 415.38,563.71 416.83,563.64 418.28,563.58 419.73,563.53 421.18,563.48 422.63,563.43 424.08,563.39 425.53,563.36 426.98,563.32 428.43,563.29 429.88,563.26 431.34,563.24 432.79,563.21 434.24,563.19 435.69,563.17 437.14,563.16 438.59,563.14 440.04,563.13 441.49,563.11 442.94,563.10 444.39,563.09 445.84,563.08 447.30,563.07 448.75,563.06 450.20,563.06 451.65,563.05 453.10,563.04 454.55,563.04 456.00,563.03" stroke="#a8161b" stroke-width="0.95" fill="none"/>
<polyline points="281.90,644.80 283.35,644.65 284.80,644.49 286.25,644.31 287.70,644.11 289.15,643.90 290.60,643.66 292.06,643.41 293.51,643.13 294.96,642.82 296.41,642.49 297.86,642.12 299.31,641.72 300.76,641.29 302.21,640.82 303.66,640.30 305.11,639.74 306.56,639.14 308.01,638.48 309.47,637.78 310.92,637.01 312.37,636.18 313.82,635.30 315.27,634.34 316.72,633.32 318.17,632.23 319.62,631.07 321.07,629.83 322.52,628.51 323.97,627.12 325.42,625.66 326.88,624.12 328.33,622.50 329.78,620.82 331.23,619.07 332.68,617.26 334.13,615.39 335.58,613.47 337.03,611.51 338.48,609.51 339.93,607.48 341.38,605.44 342.83,603.38 344.29,601.33 345.74,599.29 347.19,597.26 348.64,595.27 350.09,593.31 351.54,591.39 352.99,589.53 354.44,587.72 355.89,585.98 357.34,584.30 358.79,582.69 360.25,581.16 361.70,579.70 363.15,578.32 364.60,577.01 366.05,575.78 367.50,574.62 368.95,573.53 370.40,572.52 371.85,571.57 373.30,570.69 374.75,569.87 376.20,569.11 377.65,568.40 379.11,567.75 380.56,567.15 382.01,566.60 383.46,566.09 384.91,565.62 386.36,565.19 387.81,564.79 389.26,564.43 390.71,564.10 392.16,563.79 393.61,563.52 395.06,563.26 396.52,563.03 397.97,562.82 399.42,562.62 400.87,562.45 402.32,562.28 403.77,562.14 405.22,562.00 406.67,561.88 408.12,561.77 409.57,561.67 411.02,561.58 412.48,561.49 413.93,561.41 415.38,561.34 416.83,561.28 418.28,561.22 419.73,561.17 421.18,561.12 422.63,561.08 424.08,561.04 425.53,561.00 426.98,560.97 428.43,560.94 429.88,560.92 431.34,560.89 432.79,560.87 434.24,560.85 435.69,560.83 437.14,560.81 438.59,560.80 440.04,560.78 441.49,560.77 442.94,560.76 444.39,560.75 445.84,560.74 447.30,560.73 448.75,560.72 450.20,560.72 451.65,560.71 453.10,560.70 454.55,560.70 456.00,560.69" stroke="#111" stroke-width="0.95" fill="none"/>
<circle cx="334.31" cy="611.40" r="1.9" fill="#1b7f2b"/>
<circle cx="358.65" cy="589.50" r="1.9" fill="#1b7f2b"/>
<circle cx="382.99" cy="566.10" r="1.9" fill="#1b7f2b"/>
<circle cx="407.32" cy="562.90" r="1.9" fill="#1b7f2b"/>
<circle cx="309.97" cy="632.20" r="1.9" fill="#a8161b"/>
<circle cx="382.99" cy="574.60" r="1.9" fill="#a8161b"/>
<circle cx="431.66" cy="560.90" r="1.9" fill="#a8161b"/>
<circle cx="456.00" cy="560.90" r="1.9" fill="#a8161b"/>
<circle cx="285.63" cy="639.70" r="1.9" fill="#111"/>
<circle cx="285.63" cy="638.50" r="1.9" fill="#111"/>
<circle cx="309.97" cy="633.30" r="1.9" fill="#111"/>
<circle cx="334.31" cy="615.50" r="1.9" fill="#111"/>
<circle cx="358.65" cy="584.80" r="1.9" fill="#111"/>
<circle cx="382.99" cy="570.50" r="1.9" fill="#111"/>
<circle cx="407.32" cy="568.80" r="1.9" fill="#111"/>
<circle cx="431.66" cy="558.50" r="1.9" fill="#111"/>
<circle cx="456.00" cy="558.00" r="1.9" fill="#111"/>
<text x="292.90" y="546.30" class="kd">Kd =</text>
<text x="290.00" y="564.00" class="kd">2.8 ± 0.083</text>
<path d="M495.70 531.10V647.20H668.40" stroke="#1a1a1a" stroke-width="1.15" fill="none"/>
<text x="489.20" y="650.25" class="tl" text-anchor="end">0.0</text>
<text x="489.20" y="611.55" class="tl" text-anchor="end">0.5</text>
<text x="489.20" y="572.85" class="tl" text-anchor="end">1.0</text>
<text x="489.20" y="534.15" class="tl" text-anchor="end">1.5</text>
<text x="530.24" y="661.10" class="tl" text-anchor="middle">0.5</text>
<text x="564.78" y="661.10" class="tl" text-anchor="middle">5</text>
<text x="599.32" y="661.10" class="tl" text-anchor="middle">50</text>
<text x="633.86" y="661.10" class="tl" text-anchor="middle">500</text>
<text x="668.40" y="661.10" class="tl" text-anchor="middle">5000</text>
<text x="495.70" y="659.70" class="tl" text-anchor="middle">0</text>
<path d="M490.50 647.20H495.70M490.50 608.50H495.70M490.50 569.80H495.70M490.50 531.10H495.70M506.10 647.20V649.90M512.18 647.20V649.90M516.50 647.20V649.90M519.84 647.20V649.90M522.58 647.20V649.90M524.89 647.20V649.90M526.89 647.20V649.90M528.66 647.20V649.90M540.64 647.20V649.90M546.72 647.20V649.90M551.04 647.20V649.90M554.38 647.20V649.90M557.12 647.20V649.90M559.43 647.20V649.90M561.43 647.20V649.90M563.20 647.20V649.90M575.18 647.20V649.90M581.26 647.20V649.90M585.58 647.20V649.90M588.92 647.20V649.90M591.66 647.20V649.90M593.97 647.20V649.90M595.97 647.20V649.90M597.74 647.20V649.90M609.72 647.20V649.90M615.80 647.20V649.90M620.12 647.20V649.90M623.46 647.20V649.90M626.20 647.20V649.90M628.51 647.20V649.90M630.51 647.20V649.90M632.28 647.20V649.90M644.26 647.20V649.90M650.34 647.20V649.90M654.66 647.20V649.90M658.00 647.20V649.90M660.74 647.20V649.90M663.05 647.20V649.90M665.05 647.20V649.90M666.82 647.20V649.90M530.24 647.20V651.60M564.78 647.20V651.60M599.32 647.20V651.60M633.86 647.20V651.60M668.40 647.20V651.60M495.70 647.20V651.60" stroke="#1a1a1a" stroke-width="1.15" fill="none"/>
<polyline points="495.70,647.12 497.06,647.12 498.41,647.11 499.77,647.10 501.12,647.09 502.48,647.08 503.83,647.07 505.19,647.06 506.54,647.04 507.90,647.03 509.25,647.01 510.61,647.00 511.97,646.98 513.32,646.96 514.68,646.93 516.03,646.91 517.39,646.88 518.74,646.85 520.10,646.82 521.45,646.78 522.81,646.74 524.17,646.70 525.52,646.65 526.88,646.60 528.23,646.54 529.59,646.48 530.94,646.42 532.30,646.34 533.65,646.26 535.01,646.17 536.36,646.08 537.72,645.97 539.08,645.86 540.43,645.74 541.79,645.60 543.14,645.45 544.50,645.29 545.85,645.11 547.21,644.92 548.56,644.71 549.92,644.48 551.27,644.23 552.63,643.96 553.99,643.67 555.34,643.35 556.70,643.00 558.05,642.62 559.41,642.22 560.76,641.77 562.12,641.29 563.47,640.77 564.83,640.21 566.19,639.61 567.54,638.95 568.90,638.25 570.25,637.50 571.61,636.69 572.96,635.82 574.32,634.89 575.67,633.89 577.03,632.83 578.38,631.71 579.74,630.51 581.10,629.25 582.45,627.91 583.81,626.50 585.16,625.02 586.52,623.48 587.87,621.86 589.23,620.18 590.58,618.44 591.94,616.63 593.29,614.78 594.65,612.87 596.01,610.93 597.36,608.95 598.72,606.94 600.07,604.91 601.43,602.87 602.78,600.82 604.14,598.78 605.49,596.75 606.85,594.75 608.21,592.77 609.56,590.82 610.92,588.92 612.27,587.07 613.63,585.27 614.98,583.53 616.34,581.86 617.69,580.25 619.05,578.70 620.40,577.23 621.76,575.83 623.12,574.50 624.47,573.24 625.83,572.05 627.18,570.93 628.54,569.87 629.89,568.88 631.25,567.96 632.60,567.09 633.96,566.29 635.31,565.54 636.67,564.84 638.03,564.19 639.38,563.59 640.74,563.03 642.09,562.51 643.45,562.04 644.80,561.59 646.16,561.19 647.51,560.81 648.87,560.47 650.23,560.15 651.58,559.86 652.94,559.59 654.29,559.34 655.65,559.12 657.00,558.91 658.36,558.72" stroke="#1b7f2b" stroke-width="0.95" fill="none"/>
<polyline points="495.70,647.12 497.06,647.11 498.41,647.10 499.77,647.09 501.12,647.08 502.48,647.07 503.83,647.05 505.19,647.04 506.54,647.03 507.90,647.01 509.25,646.99 510.61,646.97 511.97,646.95 513.32,646.93 514.68,646.90 516.03,646.87 517.39,646.84 518.74,646.81 520.10,646.77 521.45,646.73 522.81,646.69 524.17,646.64 525.52,646.59 526.88,646.53 528.23,646.47 529.59,646.40 530.94,646.32 532.30,646.24 533.65,646.15 535.01,646.05 536.36,645.95 537.72,645.83 539.08,645.70 540.43,645.56 541.79,645.41 543.14,645.24 544.50,645.06 545.85,644.87 547.21,644.65 548.56,644.42 549.92,644.16 551.27,643.89 552.63,643.59 553.99,643.26 555.34,642.90 556.70,642.52 558.05,642.10 559.41,641.65 560.76,641.16 562.12,640.63 563.47,640.05 564.83,639.44 566.19,638.77 567.54,638.05 568.90,637.28 570.25,636.45 571.61,635.57 572.96,634.62 574.32,633.61 575.67,632.53 577.03,631.38 578.38,630.16 579.74,628.87 581.10,627.51 582.45,626.08 583.81,624.58 585.16,623.01 586.52,621.37 587.87,619.66 589.23,617.89 590.58,616.07 591.94,614.19 593.29,612.26 594.65,610.29 596.01,608.29 597.36,606.26 598.72,604.21 600.07,602.15 601.43,600.08 602.78,598.03 604.14,595.98 605.49,593.96 606.85,591.97 608.21,590.02 609.56,588.11 610.92,586.25 612.27,584.45 613.63,582.70 614.98,581.02 616.34,579.41 617.69,577.87 619.05,576.39 620.40,574.99 621.76,573.66 623.12,572.40 624.47,571.21 625.83,570.09 627.18,569.04 628.54,568.06 629.89,567.13 631.25,566.27 632.60,565.47 633.96,564.72 635.31,564.02 636.67,563.37 638.03,562.77 639.38,562.22 640.74,561.71 642.09,561.23 643.45,560.79 644.80,560.39 646.16,560.02 647.51,559.67 648.87,559.36 650.23,559.07 651.58,558.80 652.94,558.55 654.29,558.33 655.65,558.12 657.00,557.93 658.36,557.75" stroke="#a8161b" stroke-width="0.95" fill="none"/>
<polyline points="495.70,647.12 497.06,647.11 498.41,647.10 499.77,647.09 501.12,647.08 502.48,647.07 503.83,647.06 505.19,647.04 506.54,647.03 507.90,647.01 509.25,647.00 510.61,646.98 511.97,646.96 513.32,646.93 514.68,646.91 516.03,646.88 517.39,646.85 518.74,646.82 520.10,646.78 521.45,646.74 522.81,646.70 524.17,646.65 525.52,646.60 526.88,646.55 528.23,646.48 529.59,646.42 530.94,646.34 532.30,646.26 533.65,646.18 535.01,646.08 536.36,645.98 537.72,645.86 539.08,645.74 540.43,645.60 541.79,645.45 543.14,645.29 544.50,645.11 545.85,644.92 547.21,644.71 548.56,644.48 549.92,644.23 551.27,643.96 552.63,643.67 553.99,643.35 555.34,643.00 556.70,642.62 558.05,642.21 559.41,641.77 560.76,641.29 562.12,640.76 563.47,640.20 564.83,639.59 566.19,638.94 567.54,638.23 568.90,637.47 570.25,636.65 571.61,635.78 572.96,634.84 574.32,633.83 575.67,632.76 577.03,631.63 578.38,630.42 579.74,629.13 581.10,627.78 582.45,626.35 583.81,624.84 585.16,623.27 586.52,621.62 587.87,619.90 589.23,618.12 590.58,616.28 591.94,614.37 593.29,612.42 594.65,610.41 596.01,608.37 597.36,606.29 598.72,604.20 600.07,602.08 601.43,599.96 602.78,597.83 604.14,595.72 605.49,593.63 606.85,591.56 608.21,589.52 609.56,587.53 610.92,585.58 612.27,583.69 613.63,581.86 614.98,580.09 616.34,578.39 617.69,576.75 619.05,575.19 620.40,573.70 621.76,572.29 623.12,570.95 624.47,569.68 625.83,568.49 627.18,567.36 628.54,566.31 629.89,565.32 631.25,564.39 632.60,563.53 633.96,562.73 635.31,561.98 636.67,561.28 638.03,560.63 639.38,560.04 640.74,559.48 642.09,558.97 643.45,558.50 644.80,558.06 646.16,557.66 647.51,557.28 648.87,556.94 650.23,556.63 651.58,556.34 652.94,556.07 654.29,555.83 655.65,555.60 657.00,555.40 658.36,555.21" stroke="#111" stroke-width="0.95" fill="none"/>
<circle cx="606.37" cy="585.70" r="1.9" fill="#1b7f2b"/>
<circle cx="616.77" cy="565.80" r="1.9" fill="#1b7f2b"/>
<circle cx="647.96" cy="560.80" r="1.9" fill="#1b7f2b"/>
<circle cx="575.18" cy="636.60" r="1.9" fill="#a8161b"/>
<circle cx="585.58" cy="628.00" r="1.9" fill="#a8161b"/>
<circle cx="595.97" cy="614.00" r="1.9" fill="#a8161b"/>
<circle cx="658.36" cy="560.30" r="1.9" fill="#a8161b"/>
<circle cx="564.78" cy="643.20" r="1.9" fill="#111"/>
<circle cx="575.18" cy="638.20" r="1.9" fill="#111"/>
<circle cx="585.58" cy="631.50" r="1.9" fill="#111"/>
<circle cx="595.97" cy="616.40" r="1.9" fill="#111"/>
<circle cx="606.37" cy="587.70" r="1.9" fill="#111"/>
<circle cx="616.77" cy="570.50" r="1.9" fill="#111"/>
<circle cx="627.17" cy="563.20" r="1.9" fill="#111"/>
<circle cx="637.56" cy="563.20" r="1.9" fill="#111"/>
<circle cx="647.96" cy="562.30" r="1.9" fill="#111"/>
<circle cx="658.36" cy="562.30" r="1.9" fill="#111"/>
<circle cx="495.70" cy="647.20" r="1.9" fill="#111"/>
<text x="506.60" y="546.30" class="kd">Kd =</text>
<text x="507.30" y="563.90" class="kd">56.2 ± 2.02</text>
<text x="163.10" y="682.2" class="xl" text-anchor="middle">Ligands, nM</text>
<text x="375.10" y="682.2" class="xl" text-anchor="middle">Ligands, nM</text>
<text x="587.10" y="682.2" class="xl" text-anchor="middle">Ligands, nM</text>
</svg>
</body></html>
